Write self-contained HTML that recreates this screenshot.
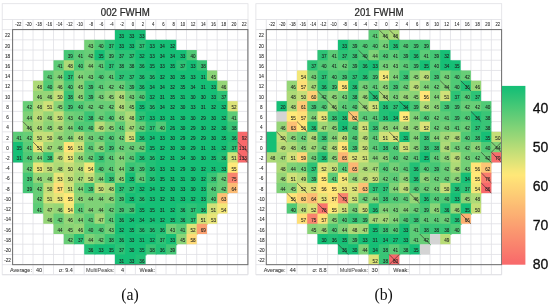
<!DOCTYPE html>
<html><head><meta charset="utf-8"><title>FWHM wafer maps</title><style>
html,body{margin:0;padding:0;background:#fff;width:550px;height:306px;overflow:hidden}
svg{display:block}
text{font-family:"Liberation Sans",sans-serif}
.cn text{font-size:4.6px;fill:#1e1e1e;text-anchor:end;stroke:#1e1e1e;stroke-width:0.07px}
.lb text{font-size:4.7px;fill:#2a2a2a;stroke:#2a2a2a;stroke-width:0.08px}
.cl text{font-size:5.0px;fill:#2a2a2a;stroke:#2a2a2a;stroke-width:0.08px}
.tt{font-size:10.3px;fill:#2a2a2a;stroke:#2a2a2a;stroke-width:0.25px}
.ft text{font-size:5.5px;fill:#404040;text-anchor:end;stroke:#404040;stroke-width:0.08px}
.ft .nm{fill:#333}
.ft .it{font-style:normal}
.ft .mp{fill:#5a5a5a;stroke:#5a5a5a}
.cbl{font-size:14px;fill:#111;stroke:#111;stroke-width:0.3px}
.cap{font-family:"Liberation Serif",serif !important;font-size:15.8px;fill:#111}
</style></head>
<body>
<svg width="550" height="306" viewBox="0 0 550 306">
<defs><clipPath id="clip0"><rect x="12.6" y="0" width="235.29" height="306"/></clipPath><clipPath id="clip1"><rect x="266.3" y="0" width="235.29" height="306"/></clipPath></defs>
<rect x="2.20" y="3.70" width="245.80" height="270.70" fill="#fff" stroke="#e0e0e4" stroke-width="0.8"/>
<line x1="2.20" y1="19.50" x2="248.00" y2="19.50" stroke="#e0e0e4" stroke-width="0.8"/>
<line x1="12.60" y1="19.50" x2="12.60" y2="264.66" stroke="#e0e0e4" stroke-width="0.8"/>
<line x1="22.83" y1="19.50" x2="22.83" y2="264.66" stroke="#e0e0e4" stroke-width="0.8"/>
<line x1="33.06" y1="19.50" x2="33.06" y2="274.40" stroke="#e0e0e4" stroke-width="0.8"/>
<line x1="43.29" y1="19.50" x2="43.29" y2="274.40" stroke="#e0e0e4" stroke-width="0.8"/>
<line x1="53.52" y1="19.50" x2="53.52" y2="274.40" stroke="#e0e0e4" stroke-width="0.8"/>
<line x1="63.75" y1="19.50" x2="63.75" y2="264.66" stroke="#e0e0e4" stroke-width="0.8"/>
<line x1="73.98" y1="19.50" x2="73.98" y2="274.40" stroke="#e0e0e4" stroke-width="0.8"/>
<line x1="84.21" y1="19.50" x2="84.21" y2="274.40" stroke="#e0e0e4" stroke-width="0.8"/>
<line x1="94.44" y1="19.50" x2="94.44" y2="264.66" stroke="#e0e0e4" stroke-width="0.8"/>
<line x1="104.67" y1="19.50" x2="104.67" y2="264.66" stroke="#e0e0e4" stroke-width="0.8"/>
<line x1="114.90" y1="19.50" x2="114.90" y2="274.40" stroke="#e0e0e4" stroke-width="0.8"/>
<line x1="125.13" y1="19.50" x2="125.13" y2="274.40" stroke="#e0e0e4" stroke-width="0.8"/>
<line x1="135.36" y1="19.50" x2="135.36" y2="274.40" stroke="#e0e0e4" stroke-width="0.8"/>
<line x1="145.59" y1="19.50" x2="145.59" y2="264.66" stroke="#e0e0e4" stroke-width="0.8"/>
<line x1="155.82" y1="19.50" x2="155.82" y2="274.40" stroke="#e0e0e4" stroke-width="0.8"/>
<line x1="166.05" y1="19.50" x2="166.05" y2="274.40" stroke="#e0e0e4" stroke-width="0.8"/>
<line x1="176.28" y1="19.50" x2="176.28" y2="274.40" stroke="#e0e0e4" stroke-width="0.8"/>
<line x1="186.51" y1="19.50" x2="186.51" y2="274.40" stroke="#e0e0e4" stroke-width="0.8"/>
<line x1="196.74" y1="19.50" x2="196.74" y2="274.40" stroke="#e0e0e4" stroke-width="0.8"/>
<line x1="206.97" y1="19.50" x2="206.97" y2="274.40" stroke="#e0e0e4" stroke-width="0.8"/>
<line x1="217.20" y1="19.50" x2="217.20" y2="274.40" stroke="#e0e0e4" stroke-width="0.8"/>
<line x1="227.43" y1="19.50" x2="227.43" y2="274.40" stroke="#e0e0e4" stroke-width="0.8"/>
<line x1="237.66" y1="19.50" x2="237.66" y2="274.40" stroke="#e0e0e4" stroke-width="0.8"/>
<line x1="247.89" y1="19.50" x2="247.89" y2="274.40" stroke="#e0e0e4" stroke-width="0.8"/>
<line x1="2.20" y1="29.60" x2="247.89" y2="29.60" stroke="#e0e0e4" stroke-width="0.8"/>
<line x1="2.20" y1="39.82" x2="247.89" y2="39.82" stroke="#e0e0e4" stroke-width="0.8"/>
<line x1="2.20" y1="50.04" x2="247.89" y2="50.04" stroke="#e0e0e4" stroke-width="0.8"/>
<line x1="2.20" y1="60.26" x2="247.89" y2="60.26" stroke="#e0e0e4" stroke-width="0.8"/>
<line x1="2.20" y1="70.48" x2="247.89" y2="70.48" stroke="#e0e0e4" stroke-width="0.8"/>
<line x1="2.20" y1="80.70" x2="247.89" y2="80.70" stroke="#e0e0e4" stroke-width="0.8"/>
<line x1="2.20" y1="90.92" x2="247.89" y2="90.92" stroke="#e0e0e4" stroke-width="0.8"/>
<line x1="2.20" y1="101.14" x2="247.89" y2="101.14" stroke="#e0e0e4" stroke-width="0.8"/>
<line x1="2.20" y1="111.36" x2="247.89" y2="111.36" stroke="#e0e0e4" stroke-width="0.8"/>
<line x1="2.20" y1="121.58" x2="247.89" y2="121.58" stroke="#e0e0e4" stroke-width="0.8"/>
<line x1="2.20" y1="131.80" x2="247.89" y2="131.80" stroke="#e0e0e4" stroke-width="0.8"/>
<line x1="2.20" y1="142.02" x2="247.89" y2="142.02" stroke="#e0e0e4" stroke-width="0.8"/>
<line x1="2.20" y1="152.24" x2="247.89" y2="152.24" stroke="#e0e0e4" stroke-width="0.8"/>
<line x1="2.20" y1="162.46" x2="247.89" y2="162.46" stroke="#e0e0e4" stroke-width="0.8"/>
<line x1="2.20" y1="172.68" x2="247.89" y2="172.68" stroke="#e0e0e4" stroke-width="0.8"/>
<line x1="2.20" y1="182.90" x2="247.89" y2="182.90" stroke="#e0e0e4" stroke-width="0.8"/>
<line x1="2.20" y1="193.12" x2="247.89" y2="193.12" stroke="#e0e0e4" stroke-width="0.8"/>
<line x1="2.20" y1="203.34" x2="247.89" y2="203.34" stroke="#e0e0e4" stroke-width="0.8"/>
<line x1="2.20" y1="213.56" x2="247.89" y2="213.56" stroke="#e0e0e4" stroke-width="0.8"/>
<line x1="2.20" y1="223.78" x2="247.89" y2="223.78" stroke="#e0e0e4" stroke-width="0.8"/>
<line x1="2.20" y1="234.00" x2="247.89" y2="234.00" stroke="#e0e0e4" stroke-width="0.8"/>
<line x1="2.20" y1="244.22" x2="247.89" y2="244.22" stroke="#e0e0e4" stroke-width="0.8"/>
<line x1="2.20" y1="254.44" x2="247.89" y2="254.44" stroke="#e0e0e4" stroke-width="0.8"/>
<line x1="2.20" y1="264.66" x2="247.89" y2="264.66" stroke="#e0e0e4" stroke-width="0.8"/>
<line x1="2.20" y1="274.88" x2="247.89" y2="274.88" stroke="#e0e0e4" stroke-width="0.8"/>
<rect x="114.90" y="29.60" width="11.23" height="11.22" fill="#16bf76"/>
<rect x="125.13" y="29.60" width="11.23" height="11.22" fill="#16bf76"/>
<rect x="135.36" y="29.60" width="10.23" height="11.22" fill="#16bf76"/>
<rect x="84.21" y="39.82" width="11.23" height="11.22" fill="#73d077"/>
<rect x="94.44" y="39.82" width="11.23" height="11.22" fill="#50ca76"/>
<rect x="104.67" y="39.82" width="11.23" height="11.22" fill="#2dc376"/>
<rect x="114.90" y="39.82" width="11.23" height="11.22" fill="#16bf76"/>
<rect x="125.13" y="39.82" width="11.23" height="11.22" fill="#16bf76"/>
<rect x="135.36" y="39.82" width="11.23" height="11.22" fill="#2dc376"/>
<rect x="145.59" y="39.82" width="11.23" height="11.22" fill="#16bf76"/>
<rect x="155.82" y="39.82" width="11.23" height="11.22" fill="#16bf76"/>
<rect x="166.05" y="39.82" width="10.23" height="11.22" fill="#16bf76"/>
<rect x="63.75" y="50.04" width="11.23" height="11.22" fill="#45c776"/>
<rect x="73.98" y="50.04" width="11.23" height="11.22" fill="#5ccc77"/>
<rect x="84.21" y="50.04" width="11.23" height="11.22" fill="#68ce77"/>
<rect x="94.44" y="50.04" width="11.23" height="11.22" fill="#16bf76"/>
<rect x="104.67" y="50.04" width="11.23" height="11.22" fill="#45c776"/>
<rect x="114.90" y="50.04" width="11.23" height="11.22" fill="#2dc376"/>
<rect x="125.13" y="50.04" width="11.23" height="11.22" fill="#2dc376"/>
<rect x="135.36" y="50.04" width="11.23" height="11.22" fill="#16bf76"/>
<rect x="145.59" y="50.04" width="11.23" height="11.22" fill="#16bf76"/>
<rect x="155.82" y="50.04" width="11.23" height="11.22" fill="#16bf76"/>
<rect x="166.05" y="50.04" width="11.23" height="11.22" fill="#16bf76"/>
<rect x="176.28" y="50.04" width="11.23" height="11.22" fill="#16bf76"/>
<rect x="186.51" y="50.04" width="10.23" height="11.22" fill="#50ca76"/>
<rect x="53.52" y="60.26" width="11.23" height="11.22" fill="#5ccc77"/>
<rect x="63.75" y="60.26" width="11.23" height="11.22" fill="#adda77"/>
<rect x="73.98" y="60.26" width="11.23" height="11.22" fill="#50ca76"/>
<rect x="84.21" y="60.26" width="11.23" height="11.22" fill="#7fd277"/>
<rect x="94.44" y="60.26" width="11.23" height="11.22" fill="#5ccc77"/>
<rect x="104.67" y="60.26" width="11.23" height="11.22" fill="#2dc376"/>
<rect x="114.90" y="60.26" width="11.23" height="11.22" fill="#39c576"/>
<rect x="125.13" y="60.26" width="11.23" height="11.22" fill="#39c576"/>
<rect x="135.36" y="60.26" width="11.23" height="11.22" fill="#22c176"/>
<rect x="145.59" y="60.26" width="11.23" height="11.22" fill="#16bf76"/>
<rect x="155.82" y="60.26" width="11.23" height="11.22" fill="#16bf76"/>
<rect x="166.05" y="60.26" width="11.23" height="11.22" fill="#16bf76"/>
<rect x="176.28" y="60.26" width="11.23" height="11.22" fill="#2dc376"/>
<rect x="186.51" y="60.26" width="11.23" height="11.22" fill="#16bf76"/>
<rect x="196.74" y="60.26" width="10.23" height="11.22" fill="#39c576"/>
<rect x="43.29" y="70.48" width="11.23" height="11.22" fill="#5ccc77"/>
<rect x="53.52" y="70.48" width="11.23" height="11.22" fill="#7fd277"/>
<rect x="63.75" y="70.48" width="11.23" height="11.22" fill="#2dc376"/>
<rect x="73.98" y="70.48" width="11.23" height="11.22" fill="#7fd277"/>
<rect x="84.21" y="70.48" width="11.23" height="11.22" fill="#73d077"/>
<rect x="94.44" y="70.48" width="11.23" height="11.22" fill="#50ca76"/>
<rect x="104.67" y="70.48" width="11.23" height="11.22" fill="#5ccc77"/>
<rect x="114.90" y="70.48" width="11.23" height="11.22" fill="#2dc376"/>
<rect x="125.13" y="70.48" width="11.23" height="11.22" fill="#2dc376"/>
<rect x="135.36" y="70.48" width="11.23" height="11.22" fill="#22c176"/>
<rect x="145.59" y="70.48" width="11.23" height="11.22" fill="#22c176"/>
<rect x="155.82" y="70.48" width="11.23" height="11.22" fill="#16bf76"/>
<rect x="166.05" y="70.48" width="11.23" height="11.22" fill="#16bf76"/>
<rect x="176.28" y="70.48" width="11.23" height="11.22" fill="#16bf76"/>
<rect x="186.51" y="70.48" width="11.23" height="11.22" fill="#16bf76"/>
<rect x="196.74" y="70.48" width="11.23" height="11.22" fill="#16bf76"/>
<rect x="206.97" y="70.48" width="10.23" height="11.22" fill="#8ad477"/>
<rect x="33.06" y="80.70" width="11.23" height="11.22" fill="#adda77"/>
<rect x="43.29" y="80.70" width="11.23" height="11.22" fill="#50ca76"/>
<rect x="53.52" y="80.70" width="11.23" height="11.22" fill="#96d677"/>
<rect x="63.75" y="80.70" width="11.23" height="11.22" fill="#50ca76"/>
<rect x="73.98" y="80.70" width="11.23" height="11.22" fill="#8ad477"/>
<rect x="84.21" y="80.70" width="11.23" height="11.22" fill="#45c776"/>
<rect x="94.44" y="80.70" width="11.23" height="11.22" fill="#5ccc77"/>
<rect x="104.67" y="80.70" width="11.23" height="11.22" fill="#68ce77"/>
<rect x="114.90" y="80.70" width="11.23" height="11.22" fill="#68ce77"/>
<rect x="125.13" y="80.70" width="11.23" height="11.22" fill="#45c776"/>
<rect x="135.36" y="80.70" width="11.23" height="11.22" fill="#22c176"/>
<rect x="145.59" y="80.70" width="11.23" height="11.22" fill="#16bf76"/>
<rect x="155.82" y="80.70" width="11.23" height="11.22" fill="#16bf76"/>
<rect x="166.05" y="80.70" width="11.23" height="11.22" fill="#16bf76"/>
<rect x="176.28" y="80.70" width="11.23" height="11.22" fill="#16bf76"/>
<rect x="186.51" y="80.70" width="11.23" height="11.22" fill="#16bf76"/>
<rect x="196.74" y="80.70" width="11.23" height="11.22" fill="#16bf76"/>
<rect x="206.97" y="80.70" width="11.23" height="11.22" fill="#16bf76"/>
<rect x="217.20" y="80.70" width="10.23" height="11.22" fill="#96d677"/>
<rect x="33.06" y="90.92" width="11.23" height="11.22" fill="#96d677"/>
<rect x="43.29" y="90.92" width="11.23" height="11.22" fill="#96d677"/>
<rect x="53.52" y="90.92" width="11.23" height="11.22" fill="#c5de78"/>
<rect x="63.75" y="90.92" width="11.23" height="11.22" fill="#39c576"/>
<rect x="73.98" y="90.92" width="11.23" height="11.22" fill="#8ad477"/>
<rect x="84.21" y="90.92" width="11.23" height="11.22" fill="#45c776"/>
<rect x="94.44" y="90.92" width="11.23" height="11.22" fill="#73d077"/>
<rect x="104.67" y="90.92" width="11.23" height="11.22" fill="#8ad477"/>
<rect x="114.90" y="90.92" width="11.23" height="11.22" fill="#adda77"/>
<rect x="125.13" y="90.92" width="11.23" height="11.22" fill="#73d077"/>
<rect x="135.36" y="90.92" width="11.23" height="11.22" fill="#50ca76"/>
<rect x="145.59" y="90.92" width="11.23" height="11.22" fill="#16bf76"/>
<rect x="155.82" y="90.92" width="11.23" height="11.22" fill="#16bf76"/>
<rect x="166.05" y="90.92" width="11.23" height="11.22" fill="#16bf76"/>
<rect x="176.28" y="90.92" width="11.23" height="11.22" fill="#16bf76"/>
<rect x="186.51" y="90.92" width="11.23" height="11.22" fill="#16bf76"/>
<rect x="196.74" y="90.92" width="11.23" height="11.22" fill="#16bf76"/>
<rect x="206.97" y="90.92" width="11.23" height="11.22" fill="#16bf76"/>
<rect x="217.20" y="90.92" width="10.23" height="11.22" fill="#2dc376"/>
<rect x="22.83" y="101.14" width="11.23" height="11.22" fill="#68ce77"/>
<rect x="33.06" y="101.14" width="11.23" height="11.22" fill="#adda77"/>
<rect x="43.29" y="101.14" width="11.23" height="11.22" fill="#d0e178"/>
<rect x="53.52" y="101.14" width="11.23" height="11.22" fill="#8ad477"/>
<rect x="63.75" y="101.14" width="11.23" height="11.22" fill="#45c776"/>
<rect x="73.98" y="101.14" width="11.23" height="11.22" fill="#50ca76"/>
<rect x="84.21" y="101.14" width="11.23" height="11.22" fill="#68ce77"/>
<rect x="94.44" y="101.14" width="11.23" height="11.22" fill="#68ce77"/>
<rect x="104.67" y="101.14" width="11.23" height="11.22" fill="#68ce77"/>
<rect x="114.90" y="101.14" width="11.23" height="11.22" fill="#adda77"/>
<rect x="125.13" y="101.14" width="11.23" height="11.22" fill="#8ad477"/>
<rect x="135.36" y="101.14" width="11.23" height="11.22" fill="#16bf76"/>
<rect x="145.59" y="101.14" width="11.23" height="11.22" fill="#22c176"/>
<rect x="155.82" y="101.14" width="11.23" height="11.22" fill="#16bf76"/>
<rect x="166.05" y="101.14" width="11.23" height="11.22" fill="#16bf76"/>
<rect x="176.28" y="101.14" width="11.23" height="11.22" fill="#16bf76"/>
<rect x="186.51" y="101.14" width="11.23" height="11.22" fill="#16bf76"/>
<rect x="196.74" y="101.14" width="11.23" height="11.22" fill="#16bf76"/>
<rect x="206.97" y="101.14" width="11.23" height="11.22" fill="#16bf76"/>
<rect x="217.20" y="101.14" width="11.23" height="11.22" fill="#16bf76"/>
<rect x="227.43" y="101.14" width="10.23" height="11.22" fill="#dce378"/>
<rect x="22.83" y="111.36" width="11.23" height="11.22" fill="#7fd277"/>
<rect x="33.06" y="111.36" width="11.23" height="11.22" fill="#b9dc77"/>
<rect x="43.29" y="111.36" width="11.23" height="11.22" fill="#96d677"/>
<rect x="53.52" y="111.36" width="11.23" height="11.22" fill="#c5de78"/>
<rect x="63.75" y="111.36" width="11.23" height="11.22" fill="#73d077"/>
<rect x="73.98" y="111.36" width="11.23" height="11.22" fill="#68ce77"/>
<rect x="84.21" y="111.36" width="11.23" height="11.22" fill="#39c576"/>
<rect x="94.44" y="111.36" width="11.23" height="11.22" fill="#68ce77"/>
<rect x="104.67" y="111.36" width="11.23" height="11.22" fill="#50ca76"/>
<rect x="114.90" y="111.36" width="11.23" height="11.22" fill="#8ad477"/>
<rect x="125.13" y="111.36" width="11.23" height="11.22" fill="#adda77"/>
<rect x="135.36" y="111.36" width="11.23" height="11.22" fill="#2dc376"/>
<rect x="145.59" y="111.36" width="11.23" height="11.22" fill="#16bf76"/>
<rect x="155.82" y="111.36" width="11.23" height="11.22" fill="#16bf76"/>
<rect x="166.05" y="111.36" width="11.23" height="11.22" fill="#16bf76"/>
<rect x="176.28" y="111.36" width="11.23" height="11.22" fill="#16bf76"/>
<rect x="186.51" y="111.36" width="11.23" height="11.22" fill="#16bf76"/>
<rect x="196.74" y="111.36" width="11.23" height="11.22" fill="#16bf76"/>
<rect x="206.97" y="111.36" width="11.23" height="11.22" fill="#16bf76"/>
<rect x="217.20" y="111.36" width="11.23" height="11.22" fill="#16bf76"/>
<rect x="227.43" y="111.36" width="10.23" height="11.22" fill="#5ccc77"/>
<rect x="22.83" y="121.58" width="11.23" height="11.22" fill="#96d677"/>
<rect x="33.06" y="121.58" width="11.23" height="11.22" fill="#adda77"/>
<rect x="43.29" y="121.58" width="11.23" height="11.22" fill="#8ad477"/>
<rect x="53.52" y="121.58" width="11.23" height="11.22" fill="#adda77"/>
<rect x="63.75" y="121.58" width="11.23" height="11.22" fill="#7fd277"/>
<rect x="73.98" y="121.58" width="11.23" height="11.22" fill="#50ca76"/>
<rect x="84.21" y="121.58" width="11.23" height="11.22" fill="#50ca76"/>
<rect x="94.44" y="121.58" width="11.23" height="11.22" fill="#b9dc77"/>
<rect x="104.67" y="121.58" width="11.23" height="11.22" fill="#8ad477"/>
<rect x="114.90" y="121.58" width="11.23" height="11.22" fill="#5ccc77"/>
<rect x="125.13" y="121.58" width="11.23" height="11.22" fill="#a2d877"/>
<rect x="135.36" y="121.58" width="11.23" height="11.22" fill="#68ce77"/>
<rect x="145.59" y="121.58" width="11.23" height="11.22" fill="#2dc376"/>
<rect x="155.82" y="121.58" width="11.23" height="11.22" fill="#50ca76"/>
<rect x="166.05" y="121.58" width="11.23" height="11.22" fill="#16bf76"/>
<rect x="176.28" y="121.58" width="11.23" height="11.22" fill="#16bf76"/>
<rect x="186.51" y="121.58" width="11.23" height="11.22" fill="#16bf76"/>
<rect x="196.74" y="121.58" width="11.23" height="11.22" fill="#16bf76"/>
<rect x="206.97" y="121.58" width="11.23" height="11.22" fill="#16bf76"/>
<rect x="217.20" y="121.58" width="11.23" height="11.22" fill="#16bf76"/>
<rect x="227.43" y="121.58" width="10.23" height="11.22" fill="#39c576"/>
<rect x="12.60" y="131.80" width="11.23" height="11.22" fill="#5ccc77"/>
<rect x="22.83" y="131.80" width="11.23" height="11.22" fill="#68ce77"/>
<rect x="33.06" y="131.80" width="11.23" height="11.22" fill="#c5de78"/>
<rect x="43.29" y="131.80" width="11.23" height="11.22" fill="#c5de78"/>
<rect x="53.52" y="131.80" width="11.23" height="11.22" fill="#96d677"/>
<rect x="63.75" y="131.80" width="11.23" height="11.22" fill="#7fd277"/>
<rect x="73.98" y="131.80" width="11.23" height="11.22" fill="#adda77"/>
<rect x="84.21" y="131.80" width="11.23" height="11.22" fill="#73d077"/>
<rect x="94.44" y="131.80" width="11.23" height="11.22" fill="#68ce77"/>
<rect x="104.67" y="131.80" width="11.23" height="11.22" fill="#50ca76"/>
<rect x="114.90" y="131.80" width="11.23" height="11.22" fill="#68ce77"/>
<rect x="125.13" y="131.80" width="11.23" height="11.22" fill="#d0e178"/>
<rect x="135.36" y="131.80" width="11.23" height="11.22" fill="#22c176"/>
<rect x="145.59" y="131.80" width="11.23" height="11.22" fill="#16bf76"/>
<rect x="155.82" y="131.80" width="11.23" height="11.22" fill="#16bf76"/>
<rect x="166.05" y="131.80" width="11.23" height="11.22" fill="#16bf76"/>
<rect x="176.28" y="131.80" width="11.23" height="11.22" fill="#16bf76"/>
<rect x="186.51" y="131.80" width="11.23" height="11.22" fill="#16bf76"/>
<rect x="196.74" y="131.80" width="11.23" height="11.22" fill="#16bf76"/>
<rect x="206.97" y="131.80" width="11.23" height="11.22" fill="#16bf76"/>
<rect x="217.20" y="131.80" width="11.23" height="11.22" fill="#16bf76"/>
<rect x="227.43" y="131.80" width="11.23" height="11.22" fill="#22c176"/>
<rect x="237.66" y="131.80" width="10.23" height="11.22" fill="#f8696b"/>
<rect x="12.60" y="142.02" width="11.23" height="11.22" fill="#16bf76"/>
<rect x="22.83" y="142.02" width="11.23" height="11.22" fill="#5ccc77"/>
<rect x="33.06" y="142.02" width="11.23" height="11.22" fill="#e8e578"/>
<rect x="43.29" y="142.02" width="11.23" height="11.22" fill="#a2d877"/>
<rect x="53.52" y="142.02" width="11.23" height="11.22" fill="#96d677"/>
<rect x="63.75" y="142.02" width="11.23" height="11.22" fill="#ffe477"/>
<rect x="73.98" y="142.02" width="11.23" height="11.22" fill="#d0e178"/>
<rect x="84.21" y="142.02" width="11.23" height="11.22" fill="#5ccc77"/>
<rect x="94.44" y="142.02" width="11.23" height="11.22" fill="#8ad477"/>
<rect x="104.67" y="142.02" width="11.23" height="11.22" fill="#45c776"/>
<rect x="114.90" y="142.02" width="11.23" height="11.22" fill="#68ce77"/>
<rect x="125.13" y="142.02" width="11.23" height="11.22" fill="#68ce77"/>
<rect x="135.36" y="142.02" width="11.23" height="11.22" fill="#68ce77"/>
<rect x="145.59" y="142.02" width="11.23" height="11.22" fill="#16bf76"/>
<rect x="155.82" y="142.02" width="11.23" height="11.22" fill="#16bf76"/>
<rect x="166.05" y="142.02" width="11.23" height="11.22" fill="#16bf76"/>
<rect x="176.28" y="142.02" width="11.23" height="11.22" fill="#16bf76"/>
<rect x="186.51" y="142.02" width="11.23" height="11.22" fill="#16bf76"/>
<rect x="196.74" y="142.02" width="11.23" height="11.22" fill="#16bf76"/>
<rect x="206.97" y="142.02" width="11.23" height="11.22" fill="#16bf76"/>
<rect x="217.20" y="142.02" width="11.23" height="11.22" fill="#16bf76"/>
<rect x="227.43" y="142.02" width="11.23" height="11.22" fill="#2dc376"/>
<rect x="237.66" y="142.02" width="10.23" height="11.22" fill="#f8696b"/>
<rect x="12.60" y="152.24" width="11.23" height="10.22" fill="#16bf76"/>
<rect x="22.83" y="152.24" width="11.23" height="11.22" fill="#50ca76"/>
<rect x="33.06" y="152.24" width="11.23" height="11.22" fill="#7fd277"/>
<rect x="43.29" y="152.24" width="11.23" height="11.22" fill="#39c576"/>
<rect x="53.52" y="152.24" width="11.23" height="11.22" fill="#b9dc77"/>
<rect x="63.75" y="152.24" width="11.23" height="11.22" fill="#e8e578"/>
<rect x="73.98" y="152.24" width="11.23" height="11.22" fill="#96d677"/>
<rect x="84.21" y="152.24" width="11.23" height="11.22" fill="#68ce77"/>
<rect x="94.44" y="152.24" width="11.23" height="11.22" fill="#39c576"/>
<rect x="104.67" y="152.24" width="11.23" height="11.22" fill="#5ccc77"/>
<rect x="114.90" y="152.24" width="11.23" height="11.22" fill="#7fd277"/>
<rect x="125.13" y="152.24" width="11.23" height="11.22" fill="#5ccc77"/>
<rect x="135.36" y="152.24" width="11.23" height="11.22" fill="#22c176"/>
<rect x="145.59" y="152.24" width="11.23" height="11.22" fill="#22c176"/>
<rect x="155.82" y="152.24" width="11.23" height="11.22" fill="#16bf76"/>
<rect x="166.05" y="152.24" width="11.23" height="11.22" fill="#16bf76"/>
<rect x="176.28" y="152.24" width="11.23" height="11.22" fill="#16bf76"/>
<rect x="186.51" y="152.24" width="11.23" height="11.22" fill="#16bf76"/>
<rect x="196.74" y="152.24" width="11.23" height="11.22" fill="#16bf76"/>
<rect x="206.97" y="152.24" width="11.23" height="11.22" fill="#16bf76"/>
<rect x="217.20" y="152.24" width="11.23" height="11.22" fill="#22c176"/>
<rect x="227.43" y="152.24" width="11.23" height="11.22" fill="#d0e178"/>
<rect x="237.66" y="152.24" width="10.23" height="10.22" fill="#f8696b"/>
<rect x="22.83" y="162.46" width="11.23" height="11.22" fill="#68ce77"/>
<rect x="33.06" y="162.46" width="11.23" height="11.22" fill="#e8e578"/>
<rect x="43.29" y="162.46" width="11.23" height="11.22" fill="#c5de78"/>
<rect x="53.52" y="162.46" width="11.23" height="11.22" fill="#adda77"/>
<rect x="63.75" y="162.46" width="11.23" height="11.22" fill="#c5de78"/>
<rect x="73.98" y="162.46" width="11.23" height="11.22" fill="#adda77"/>
<rect x="84.21" y="162.46" width="11.23" height="11.22" fill="#f3e778"/>
<rect x="94.44" y="162.46" width="11.23" height="11.22" fill="#50ca76"/>
<rect x="104.67" y="162.46" width="11.23" height="11.22" fill="#5ccc77"/>
<rect x="114.90" y="162.46" width="11.23" height="11.22" fill="#7fd277"/>
<rect x="125.13" y="162.46" width="11.23" height="11.22" fill="#39c576"/>
<rect x="135.36" y="162.46" width="11.23" height="11.22" fill="#45c776"/>
<rect x="145.59" y="162.46" width="11.23" height="11.22" fill="#22c176"/>
<rect x="155.82" y="162.46" width="11.23" height="11.22" fill="#16bf76"/>
<rect x="166.05" y="162.46" width="11.23" height="11.22" fill="#16bf76"/>
<rect x="176.28" y="162.46" width="11.23" height="11.22" fill="#16bf76"/>
<rect x="186.51" y="162.46" width="11.23" height="11.22" fill="#16bf76"/>
<rect x="196.74" y="162.46" width="11.23" height="11.22" fill="#16bf76"/>
<rect x="206.97" y="162.46" width="11.23" height="11.22" fill="#16bf76"/>
<rect x="217.20" y="162.46" width="11.23" height="11.22" fill="#16bf76"/>
<rect x="227.43" y="162.46" width="10.23" height="11.22" fill="#ffe978"/>
<rect x="22.83" y="172.68" width="11.23" height="11.22" fill="#45c776"/>
<rect x="33.06" y="172.68" width="11.23" height="11.22" fill="#96d677"/>
<rect x="43.29" y="172.68" width="11.23" height="11.22" fill="#96d677"/>
<rect x="53.52" y="172.68" width="11.23" height="11.22" fill="#e8e578"/>
<rect x="63.75" y="172.68" width="11.23" height="11.22" fill="#c5de78"/>
<rect x="73.98" y="172.68" width="11.23" height="11.22" fill="#a2d877"/>
<rect x="84.21" y="172.68" width="11.23" height="11.22" fill="#c5de78"/>
<rect x="94.44" y="172.68" width="11.23" height="11.22" fill="#7fd277"/>
<rect x="104.67" y="172.68" width="11.23" height="11.22" fill="#39c576"/>
<rect x="114.90" y="172.68" width="11.23" height="11.22" fill="#8ad477"/>
<rect x="125.13" y="172.68" width="11.23" height="11.22" fill="#16bf76"/>
<rect x="135.36" y="172.68" width="11.23" height="11.22" fill="#5ccc77"/>
<rect x="145.59" y="172.68" width="11.23" height="11.22" fill="#22c176"/>
<rect x="155.82" y="172.68" width="11.23" height="11.22" fill="#16bf76"/>
<rect x="166.05" y="172.68" width="11.23" height="11.22" fill="#16bf76"/>
<rect x="176.28" y="172.68" width="11.23" height="11.22" fill="#16bf76"/>
<rect x="186.51" y="172.68" width="11.23" height="11.22" fill="#16bf76"/>
<rect x="196.74" y="172.68" width="11.23" height="11.22" fill="#16bf76"/>
<rect x="206.97" y="172.68" width="11.23" height="11.22" fill="#39c576"/>
<rect x="217.20" y="172.68" width="11.23" height="11.22" fill="#68ce77"/>
<rect x="227.43" y="172.68" width="10.23" height="11.22" fill="#f9836e"/>
<rect x="22.83" y="182.90" width="11.23" height="10.22" fill="#45c776"/>
<rect x="33.06" y="182.90" width="11.23" height="11.22" fill="#68ce77"/>
<rect x="43.29" y="182.90" width="11.23" height="11.22" fill="#c5de78"/>
<rect x="53.52" y="182.90" width="11.23" height="11.22" fill="#fedf77"/>
<rect x="63.75" y="182.90" width="11.23" height="11.22" fill="#d0e178"/>
<rect x="73.98" y="182.90" width="11.23" height="11.22" fill="#7fd277"/>
<rect x="84.21" y="182.90" width="11.23" height="11.22" fill="#45c776"/>
<rect x="94.44" y="182.90" width="11.23" height="11.22" fill="#c5de78"/>
<rect x="104.67" y="182.90" width="11.23" height="11.22" fill="#adda77"/>
<rect x="114.90" y="182.90" width="11.23" height="11.22" fill="#2dc376"/>
<rect x="125.13" y="182.90" width="11.23" height="11.22" fill="#2dc376"/>
<rect x="135.36" y="182.90" width="11.23" height="11.22" fill="#16bf76"/>
<rect x="145.59" y="182.90" width="11.23" height="11.22" fill="#16bf76"/>
<rect x="155.82" y="182.90" width="11.23" height="11.22" fill="#16bf76"/>
<rect x="166.05" y="182.90" width="11.23" height="11.22" fill="#16bf76"/>
<rect x="176.28" y="182.90" width="11.23" height="11.22" fill="#16bf76"/>
<rect x="186.51" y="182.90" width="11.23" height="11.22" fill="#16bf76"/>
<rect x="196.74" y="182.90" width="11.23" height="11.22" fill="#16bf76"/>
<rect x="206.97" y="182.90" width="11.23" height="11.22" fill="#50ca76"/>
<rect x="217.20" y="182.90" width="11.23" height="11.22" fill="#68ce77"/>
<rect x="227.43" y="182.90" width="10.23" height="10.22" fill="#fcbb73"/>
<rect x="33.06" y="193.12" width="11.23" height="11.22" fill="#68ce77"/>
<rect x="43.29" y="193.12" width="11.23" height="11.22" fill="#d0e178"/>
<rect x="53.52" y="193.12" width="11.23" height="11.22" fill="#e8e578"/>
<rect x="63.75" y="193.12" width="11.23" height="11.22" fill="#ffe978"/>
<rect x="73.98" y="193.12" width="11.23" height="11.22" fill="#8ad477"/>
<rect x="84.21" y="193.12" width="11.23" height="11.22" fill="#7fd277"/>
<rect x="94.44" y="193.12" width="11.23" height="11.22" fill="#7fd277"/>
<rect x="104.67" y="193.12" width="11.23" height="11.22" fill="#8ad477"/>
<rect x="114.90" y="193.12" width="11.23" height="11.22" fill="#45c776"/>
<rect x="125.13" y="193.12" width="11.23" height="11.22" fill="#16bf76"/>
<rect x="135.36" y="193.12" width="11.23" height="11.22" fill="#22c176"/>
<rect x="145.59" y="193.12" width="11.23" height="11.22" fill="#16bf76"/>
<rect x="155.82" y="193.12" width="11.23" height="11.22" fill="#16bf76"/>
<rect x="166.05" y="193.12" width="11.23" height="11.22" fill="#16bf76"/>
<rect x="176.28" y="193.12" width="11.23" height="11.22" fill="#16bf76"/>
<rect x="186.51" y="193.12" width="11.23" height="11.22" fill="#16bf76"/>
<rect x="196.74" y="193.12" width="11.23" height="11.22" fill="#16bf76"/>
<rect x="206.97" y="193.12" width="11.23" height="11.22" fill="#50ca76"/>
<rect x="217.20" y="193.12" width="10.23" height="11.22" fill="#fdc074"/>
<rect x="33.06" y="203.34" width="11.23" height="10.22" fill="#5ccc77"/>
<rect x="43.29" y="203.34" width="11.23" height="11.22" fill="#a2d877"/>
<rect x="53.52" y="203.34" width="11.23" height="11.22" fill="#96d677"/>
<rect x="63.75" y="203.34" width="11.23" height="11.22" fill="#f3e778"/>
<rect x="73.98" y="203.34" width="11.23" height="11.22" fill="#5ccc77"/>
<rect x="84.21" y="203.34" width="11.23" height="11.22" fill="#7fd277"/>
<rect x="94.44" y="203.34" width="11.23" height="11.22" fill="#7fd277"/>
<rect x="104.67" y="203.34" width="11.23" height="11.22" fill="#68ce77"/>
<rect x="114.90" y="203.34" width="11.23" height="11.22" fill="#45c776"/>
<rect x="125.13" y="203.34" width="11.23" height="11.22" fill="#45c776"/>
<rect x="135.36" y="203.34" width="11.23" height="11.22" fill="#16bf76"/>
<rect x="145.59" y="203.34" width="11.23" height="11.22" fill="#16bf76"/>
<rect x="155.82" y="203.34" width="11.23" height="11.22" fill="#16bf76"/>
<rect x="166.05" y="203.34" width="11.23" height="11.22" fill="#16bf76"/>
<rect x="176.28" y="203.34" width="11.23" height="11.22" fill="#22c176"/>
<rect x="186.51" y="203.34" width="11.23" height="11.22" fill="#2dc376"/>
<rect x="196.74" y="203.34" width="11.23" height="11.22" fill="#22c176"/>
<rect x="206.97" y="203.34" width="11.23" height="11.22" fill="#d0e178"/>
<rect x="217.20" y="203.34" width="10.23" height="10.22" fill="#f3e778"/>
<rect x="43.29" y="213.56" width="11.23" height="10.22" fill="#96d677"/>
<rect x="53.52" y="213.56" width="11.23" height="11.22" fill="#68ce77"/>
<rect x="63.75" y="213.56" width="11.23" height="11.22" fill="#96d677"/>
<rect x="73.98" y="213.56" width="11.23" height="11.22" fill="#7fd277"/>
<rect x="84.21" y="213.56" width="11.23" height="11.22" fill="#5ccc77"/>
<rect x="94.44" y="213.56" width="11.23" height="11.22" fill="#a2d877"/>
<rect x="104.67" y="213.56" width="11.23" height="11.22" fill="#5ccc77"/>
<rect x="114.90" y="213.56" width="11.23" height="11.22" fill="#22c176"/>
<rect x="125.13" y="213.56" width="11.23" height="11.22" fill="#16bf76"/>
<rect x="135.36" y="213.56" width="11.23" height="11.22" fill="#16bf76"/>
<rect x="145.59" y="213.56" width="11.23" height="11.22" fill="#16bf76"/>
<rect x="155.82" y="213.56" width="11.23" height="11.22" fill="#16bf76"/>
<rect x="166.05" y="213.56" width="11.23" height="11.22" fill="#16bf76"/>
<rect x="176.28" y="213.56" width="11.23" height="11.22" fill="#22c176"/>
<rect x="186.51" y="213.56" width="11.23" height="11.22" fill="#2dc376"/>
<rect x="196.74" y="213.56" width="11.23" height="11.22" fill="#d0e178"/>
<rect x="206.97" y="213.56" width="10.23" height="10.22" fill="#e8e578"/>
<rect x="53.52" y="223.78" width="11.23" height="10.22" fill="#7fd277"/>
<rect x="63.75" y="223.78" width="11.23" height="11.22" fill="#8ad477"/>
<rect x="73.98" y="223.78" width="11.23" height="11.22" fill="#96d677"/>
<rect x="84.21" y="223.78" width="11.23" height="11.22" fill="#50ca76"/>
<rect x="94.44" y="223.78" width="11.23" height="11.22" fill="#50ca76"/>
<rect x="104.67" y="223.78" width="11.23" height="11.22" fill="#73d077"/>
<rect x="114.90" y="223.78" width="11.23" height="11.22" fill="#16bf76"/>
<rect x="125.13" y="223.78" width="11.23" height="11.22" fill="#16bf76"/>
<rect x="135.36" y="223.78" width="11.23" height="11.22" fill="#22c176"/>
<rect x="145.59" y="223.78" width="11.23" height="11.22" fill="#22c176"/>
<rect x="155.82" y="223.78" width="11.23" height="11.22" fill="#22c176"/>
<rect x="166.05" y="223.78" width="11.23" height="11.22" fill="#73d077"/>
<rect x="176.28" y="223.78" width="11.23" height="11.22" fill="#5ccc77"/>
<rect x="186.51" y="223.78" width="11.23" height="11.22" fill="#dce378"/>
<rect x="196.74" y="223.78" width="10.23" height="10.22" fill="#fba171"/>
<rect x="63.75" y="234.00" width="11.23" height="10.22" fill="#68ce77"/>
<rect x="73.98" y="234.00" width="11.23" height="10.22" fill="#2dc376"/>
<rect x="84.21" y="234.00" width="11.23" height="11.22" fill="#7fd277"/>
<rect x="94.44" y="234.00" width="11.23" height="11.22" fill="#68ce77"/>
<rect x="104.67" y="234.00" width="11.23" height="11.22" fill="#39c576"/>
<rect x="114.90" y="234.00" width="11.23" height="11.22" fill="#22c176"/>
<rect x="125.13" y="234.00" width="11.23" height="11.22" fill="#16bf76"/>
<rect x="135.36" y="234.00" width="11.23" height="11.22" fill="#16bf76"/>
<rect x="145.59" y="234.00" width="11.23" height="11.22" fill="#16bf76"/>
<rect x="155.82" y="234.00" width="11.23" height="11.22" fill="#2dc376"/>
<rect x="166.05" y="234.00" width="11.23" height="11.22" fill="#16bf76"/>
<rect x="176.28" y="234.00" width="11.23" height="10.22" fill="#8ad477"/>
<rect x="186.51" y="234.00" width="10.23" height="10.22" fill="#feda76"/>
<rect x="84.21" y="244.22" width="11.23" height="10.22" fill="#22c176"/>
<rect x="94.44" y="244.22" width="11.23" height="10.22" fill="#16bf76"/>
<rect x="104.67" y="244.22" width="11.23" height="10.22" fill="#16bf76"/>
<rect x="114.90" y="244.22" width="11.23" height="11.22" fill="#2dc376"/>
<rect x="125.13" y="244.22" width="11.23" height="11.22" fill="#16bf76"/>
<rect x="135.36" y="244.22" width="11.23" height="11.22" fill="#16bf76"/>
<rect x="145.59" y="244.22" width="11.23" height="10.22" fill="#39c576"/>
<rect x="155.82" y="244.22" width="11.23" height="10.22" fill="#22c176"/>
<rect x="166.05" y="244.22" width="10.23" height="10.22" fill="#45c776"/>
<rect x="114.90" y="254.44" width="11.23" height="10.22" fill="#16bf76"/>
<rect x="125.13" y="254.44" width="11.23" height="10.22" fill="#16bf76"/>
<rect x="135.36" y="254.44" width="10.23" height="10.22" fill="#22c176"/>
<line x1="22.83" y1="121.58" x2="33.06" y2="131.80" stroke="#2a2a2a" stroke-width="0.6"/>
<line x1="33.06" y1="142.02" x2="43.29" y2="152.24" stroke="#2a2a2a" stroke-width="0.6"/>
<line x1="237.66" y1="142.02" x2="247.89" y2="152.24" stroke="#2a2a2a" stroke-width="0.6"/>
<line x1="237.66" y1="152.24" x2="247.89" y2="162.46" stroke="#2a2a2a" stroke-width="0.6"/>
<g class="cn" clip-path="url(#clip0)"><text x="124.03" y="37.82">33</text><text x="134.26" y="37.82">33</text><text x="144.49" y="37.82">33</text><text x="93.34" y="48.04">43</text><text x="103.57" y="48.04">40</text><text x="113.80" y="48.04">37</text><text x="124.03" y="48.04">33</text><text x="134.26" y="48.04">33</text><text x="144.49" y="48.04">37</text><text x="154.72" y="48.04">33</text><text x="164.95" y="48.04">34</text><text x="175.18" y="48.04">32</text><text x="72.88" y="58.26">39</text><text x="83.11" y="58.26">41</text><text x="93.34" y="58.26">42</text><text x="103.57" y="58.26">35</text><text x="113.80" y="58.26">39</text><text x="124.03" y="58.26">37</text><text x="134.26" y="58.26">37</text><text x="144.49" y="58.26">32</text><text x="154.72" y="58.26">33</text><text x="164.95" y="58.26">34</text><text x="175.18" y="58.26">34</text><text x="185.41" y="58.26">33</text><text x="195.64" y="58.26">40</text><text x="62.65" y="68.48">41</text><text x="72.88" y="68.48">48</text><text x="83.11" y="68.48">40</text><text x="93.34" y="68.48">44</text><text x="103.57" y="68.48">41</text><text x="113.80" y="68.48">37</text><text x="124.03" y="68.48">38</text><text x="134.26" y="68.48">38</text><text x="144.49" y="68.48">36</text><text x="154.72" y="68.48">35</text><text x="164.95" y="68.48">33</text><text x="175.18" y="68.48">35</text><text x="185.41" y="68.48">37</text><text x="195.64" y="68.48">33</text><text x="205.87" y="68.48">38</text><text x="52.42" y="78.70">41</text><text x="62.65" y="78.70">44</text><text x="72.88" y="78.70">37</text><text x="83.11" y="78.70">44</text><text x="93.34" y="78.70">43</text><text x="103.57" y="78.70">40</text><text x="113.80" y="78.70">41</text><text x="124.03" y="78.70">37</text><text x="134.26" y="78.70">37</text><text x="144.49" y="78.70">36</text><text x="154.72" y="78.70">36</text><text x="164.95" y="78.70">32</text><text x="175.18" y="78.70">30</text><text x="185.41" y="78.70">35</text><text x="195.64" y="78.70">33</text><text x="205.87" y="78.70">31</text><text x="216.10" y="78.70">45</text><text x="42.19" y="88.92">48</text><text x="52.42" y="88.92">40</text><text x="62.65" y="88.92">46</text><text x="72.88" y="88.92">40</text><text x="83.11" y="88.92">45</text><text x="93.34" y="88.92">39</text><text x="103.57" y="88.92">41</text><text x="113.80" y="88.92">42</text><text x="124.03" y="88.92">42</text><text x="134.26" y="88.92">39</text><text x="144.49" y="88.92">36</text><text x="154.72" y="88.92">34</text><text x="164.95" y="88.92">34</text><text x="175.18" y="88.92">32</text><text x="185.41" y="88.92">35</text><text x="195.64" y="88.92">34</text><text x="205.87" y="88.92">31</text><text x="216.10" y="88.92">33</text><text x="226.33" y="88.92">46</text><text x="42.19" y="99.14">46</text><text x="52.42" y="99.14">46</text><text x="62.65" y="99.14">50</text><text x="72.88" y="99.14">38</text><text x="83.11" y="99.14">45</text><text x="93.34" y="99.14">39</text><text x="103.57" y="99.14">43</text><text x="113.80" y="99.14">45</text><text x="124.03" y="99.14">48</text><text x="134.26" y="99.14">43</text><text x="144.49" y="99.14">40</text><text x="154.72" y="99.14">32</text><text x="164.95" y="99.14">31</text><text x="175.18" y="99.14">35</text><text x="185.41" y="99.14">31</text><text x="195.64" y="99.14">30</text><text x="205.87" y="99.14">30</text><text x="216.10" y="99.14">33</text><text x="226.33" y="99.14">37</text><text x="31.96" y="109.36">42</text><text x="42.19" y="109.36">48</text><text x="52.42" y="109.36">51</text><text x="62.65" y="109.36">45</text><text x="72.88" y="109.36">39</text><text x="83.11" y="109.36">40</text><text x="93.34" y="109.36">42</text><text x="103.57" y="109.36">42</text><text x="113.80" y="109.36">42</text><text x="124.03" y="109.36">48</text><text x="134.26" y="109.36">45</text><text x="144.49" y="109.36">35</text><text x="154.72" y="109.36">36</text><text x="164.95" y="109.36">34</text><text x="175.18" y="109.36">32</text><text x="185.41" y="109.36">30</text><text x="195.64" y="109.36">33</text><text x="205.87" y="109.36">31</text><text x="216.10" y="109.36">32</text><text x="226.33" y="109.36">32</text><text x="236.56" y="109.36">52</text><text x="31.96" y="119.58">44</text><text x="42.19" y="119.58">49</text><text x="52.42" y="119.58">46</text><text x="62.65" y="119.58">50</text><text x="72.88" y="119.58">43</text><text x="83.11" y="119.58">42</text><text x="93.34" y="119.58">38</text><text x="103.57" y="119.58">42</text><text x="113.80" y="119.58">40</text><text x="124.03" y="119.58">45</text><text x="134.26" y="119.58">48</text><text x="144.49" y="119.58">37</text><text x="154.72" y="119.58">33</text><text x="164.95" y="119.58">33</text><text x="175.18" y="119.58">31</text><text x="185.41" y="119.58">30</text><text x="195.64" y="119.58">30</text><text x="205.87" y="119.58">29</text><text x="216.10" y="119.58">30</text><text x="226.33" y="119.58">32</text><text x="236.56" y="119.58">41</text><text x="31.96" y="129.80">46</text><text x="42.19" y="129.80">48</text><text x="52.42" y="129.80">45</text><text x="62.65" y="129.80">48</text><text x="72.88" y="129.80">44</text><text x="83.11" y="129.80">40</text><text x="93.34" y="129.80">40</text><text x="103.57" y="129.80">49</text><text x="113.80" y="129.80">45</text><text x="124.03" y="129.80">41</text><text x="134.26" y="129.80">47</text><text x="144.49" y="129.80">42</text><text x="154.72" y="129.80">37</text><text x="164.95" y="129.80">40</text><text x="175.18" y="129.80">26</text><text x="185.41" y="129.80">30</text><text x="195.64" y="129.80">29</text><text x="205.87" y="129.80">30</text><text x="216.10" y="129.80">32</text><text x="226.33" y="129.80">30</text><text x="236.56" y="129.80">38</text><text x="21.73" y="140.02">41</text><text x="31.96" y="140.02">42</text><text x="42.19" y="140.02">50</text><text x="52.42" y="140.02">50</text><text x="62.65" y="140.02">46</text><text x="72.88" y="140.02">44</text><text x="83.11" y="140.02">48</text><text x="93.34" y="140.02">43</text><text x="103.57" y="140.02">42</text><text x="113.80" y="140.02">40</text><text x="124.03" y="140.02">42</text><text x="134.26" y="140.02">51</text><text x="144.49" y="140.02">36</text><text x="154.72" y="140.02">34</text><text x="164.95" y="140.02">33</text><text x="175.18" y="140.02">30</text><text x="185.41" y="140.02">29</text><text x="195.64" y="140.02">29</text><text x="205.87" y="140.02">29</text><text x="216.10" y="140.02">30</text><text x="226.33" y="140.02">35</text><text x="236.56" y="140.02">36</text><text x="246.79" y="140.02">92</text><text x="21.73" y="150.24">35</text><text x="31.96" y="150.24">41</text><text x="42.19" y="150.24">53</text><text x="52.42" y="150.24">47</text><text x="62.65" y="150.24">46</text><text x="72.88" y="150.24">56</text><text x="83.11" y="150.24">51</text><text x="93.34" y="150.24">41</text><text x="103.57" y="150.24">45</text><text x="113.80" y="150.24">39</text><text x="124.03" y="150.24">42</text><text x="134.26" y="150.24">42</text><text x="144.49" y="150.24">42</text><text x="154.72" y="150.24">35</text><text x="164.95" y="150.24">32</text><text x="175.18" y="150.24">30</text><text x="185.41" y="150.24">30</text><text x="195.64" y="150.24">29</text><text x="205.87" y="150.24">31</text><text x="216.10" y="150.24">31</text><text x="226.33" y="150.24">32</text><text x="236.56" y="150.24">37</text><text x="246.79" y="150.24">131</text><text x="21.73" y="160.46">31</text><text x="31.96" y="160.46">40</text><text x="42.19" y="160.46">44</text><text x="52.42" y="160.46">38</text><text x="62.65" y="160.46">49</text><text x="72.88" y="160.46">53</text><text x="83.11" y="160.46">46</text><text x="93.34" y="160.46">42</text><text x="103.57" y="160.46">38</text><text x="113.80" y="160.46">41</text><text x="124.03" y="160.46">44</text><text x="134.26" y="160.46">41</text><text x="144.49" y="160.46">36</text><text x="154.72" y="160.46">36</text><text x="164.95" y="160.46">32</text><text x="175.18" y="160.46">31</text><text x="185.41" y="160.46">34</text><text x="195.64" y="160.46">30</text><text x="205.87" y="160.46">30</text><text x="216.10" y="160.46">35</text><text x="226.33" y="160.46">36</text><text x="236.56" y="160.46">51</text><text x="246.79" y="160.46">133</text><text x="31.96" y="170.68">42</text><text x="42.19" y="170.68">53</text><text x="52.42" y="170.68">50</text><text x="62.65" y="170.68">48</text><text x="72.88" y="170.68">50</text><text x="83.11" y="170.68">48</text><text x="93.34" y="170.68">54</text><text x="103.57" y="170.68">40</text><text x="113.80" y="170.68">41</text><text x="124.03" y="170.68">44</text><text x="134.26" y="170.68">38</text><text x="144.49" y="170.68">39</text><text x="154.72" y="170.68">36</text><text x="164.95" y="170.68">33</text><text x="175.18" y="170.68">31</text><text x="185.41" y="170.68">29</text><text x="195.64" y="170.68">30</text><text x="205.87" y="170.68">32</text><text x="216.10" y="170.68">31</text><text x="226.33" y="170.68">33</text><text x="236.56" y="170.68">55</text><text x="31.96" y="180.90">39</text><text x="42.19" y="180.90">46</text><text x="52.42" y="180.90">46</text><text x="62.65" y="180.90">53</text><text x="72.88" y="180.90">50</text><text x="83.11" y="180.90">47</text><text x="93.34" y="180.90">50</text><text x="103.57" y="180.90">44</text><text x="113.80" y="180.90">38</text><text x="124.03" y="180.90">45</text><text x="134.26" y="180.90">35</text><text x="144.49" y="180.90">41</text><text x="154.72" y="180.90">36</text><text x="164.95" y="180.90">35</text><text x="175.18" y="180.90">31</text><text x="185.41" y="180.90">31</text><text x="195.64" y="180.90">30</text><text x="205.87" y="180.90">32</text><text x="216.10" y="180.90">38</text><text x="226.33" y="180.90">42</text><text x="236.56" y="180.90">75</text><text x="31.96" y="191.12">39</text><text x="42.19" y="191.12">42</text><text x="52.42" y="191.12">50</text><text x="62.65" y="191.12">57</text><text x="72.88" y="191.12">51</text><text x="83.11" y="191.12">44</text><text x="93.34" y="191.12">39</text><text x="103.57" y="191.12">50</text><text x="113.80" y="191.12">48</text><text x="124.03" y="191.12">37</text><text x="134.26" y="191.12">37</text><text x="144.49" y="191.12">32</text><text x="154.72" y="191.12">34</text><text x="164.95" y="191.12">32</text><text x="175.18" y="191.12">30</text><text x="185.41" y="191.12">33</text><text x="195.64" y="191.12">30</text><text x="205.87" y="191.12">33</text><text x="216.10" y="191.12">40</text><text x="226.33" y="191.12">42</text><text x="236.56" y="191.12">64</text><text x="42.19" y="201.34">42</text><text x="52.42" y="201.34">51</text><text x="62.65" y="201.34">53</text><text x="72.88" y="201.34">55</text><text x="83.11" y="201.34">45</text><text x="93.34" y="201.34">44</text><text x="103.57" y="201.34">44</text><text x="113.80" y="201.34">45</text><text x="124.03" y="201.34">39</text><text x="134.26" y="201.34">35</text><text x="144.49" y="201.34">36</text><text x="154.72" y="201.34">33</text><text x="164.95" y="201.34">32</text><text x="175.18" y="201.34">31</text><text x="185.41" y="201.34">33</text><text x="195.64" y="201.34">32</text><text x="205.87" y="201.34">33</text><text x="216.10" y="201.34">40</text><text x="226.33" y="201.34">63</text><text x="42.19" y="211.56">41</text><text x="52.42" y="211.56">47</text><text x="62.65" y="211.56">46</text><text x="72.88" y="211.56">54</text><text x="83.11" y="211.56">41</text><text x="93.34" y="211.56">44</text><text x="103.57" y="211.56">44</text><text x="113.80" y="211.56">42</text><text x="124.03" y="211.56">39</text><text x="134.26" y="211.56">39</text><text x="144.49" y="211.56">35</text><text x="154.72" y="211.56">35</text><text x="164.95" y="211.56">31</text><text x="175.18" y="211.56">32</text><text x="185.41" y="211.56">36</text><text x="195.64" y="211.56">37</text><text x="205.87" y="211.56">36</text><text x="216.10" y="211.56">51</text><text x="226.33" y="211.56">54</text><text x="52.42" y="221.78">46</text><text x="62.65" y="221.78">42</text><text x="72.88" y="221.78">46</text><text x="83.11" y="221.78">44</text><text x="93.34" y="221.78">41</text><text x="103.57" y="221.78">47</text><text x="113.80" y="221.78">41</text><text x="124.03" y="221.78">36</text><text x="134.26" y="221.78">34</text><text x="144.49" y="221.78">34</text><text x="154.72" y="221.78">34</text><text x="164.95" y="221.78">32</text><text x="175.18" y="221.78">35</text><text x="185.41" y="221.78">36</text><text x="195.64" y="221.78">37</text><text x="205.87" y="221.78">51</text><text x="216.10" y="221.78">53</text><text x="62.65" y="232.00">44</text><text x="72.88" y="232.00">45</text><text x="83.11" y="232.00">46</text><text x="93.34" y="232.00">40</text><text x="103.57" y="232.00">40</text><text x="113.80" y="232.00">43</text><text x="124.03" y="232.00">32</text><text x="134.26" y="232.00">35</text><text x="144.49" y="232.00">36</text><text x="154.72" y="232.00">36</text><text x="164.95" y="232.00">36</text><text x="175.18" y="232.00">43</text><text x="185.41" y="232.00">41</text><text x="195.64" y="232.00">52</text><text x="205.87" y="232.00">69</text><text x="72.88" y="242.22">42</text><text x="83.11" y="242.22">37</text><text x="93.34" y="242.22">44</text><text x="103.57" y="242.22">42</text><text x="113.80" y="242.22">38</text><text x="124.03" y="242.22">36</text><text x="134.26" y="242.22">33</text><text x="144.49" y="242.22">31</text><text x="154.72" y="242.22">32</text><text x="164.95" y="242.22">37</text><text x="175.18" y="242.22">33</text><text x="185.41" y="242.22">45</text><text x="195.64" y="242.22">58</text><text x="93.34" y="252.44">36</text><text x="103.57" y="252.44">33</text><text x="113.80" y="252.44">35</text><text x="124.03" y="252.44">37</text><text x="134.26" y="252.44">30</text><text x="144.49" y="252.44">35</text><text x="154.72" y="252.44">38</text><text x="164.95" y="252.44">36</text><text x="175.18" y="252.44">39</text><text x="124.03" y="262.66">31</text><text x="134.26" y="262.66">33</text><text x="144.49" y="262.66">36</text></g>
<rect x="12.60" y="29.60" width="235.29" height="235.06" fill="none" stroke="#6e6e6e" stroke-width="1"/>
<g class="cl" transform="scale(0.85,1)"><text x="25.27" y="26.1" text-anchor="end">-22</text><text x="37.31" y="26.1" text-anchor="end">-20</text><text x="49.34" y="26.1" text-anchor="end">-18</text><text x="61.38" y="26.1" text-anchor="end">-16</text><text x="73.41" y="26.1" text-anchor="end">-14</text><text x="85.45" y="26.1" text-anchor="end">-12</text><text x="97.48" y="26.1" text-anchor="end">-10</text><text x="109.52" y="26.1" text-anchor="end">-8</text><text x="121.55" y="26.1" text-anchor="end">-6</text><text x="133.59" y="26.1" text-anchor="end">-4</text><text x="145.62" y="26.1" text-anchor="end">-2</text><text x="157.66" y="26.1" text-anchor="end">0</text><text x="169.69" y="26.1" text-anchor="end">2</text><text x="181.73" y="26.1" text-anchor="end">4</text><text x="193.76" y="26.1" text-anchor="end">6</text><text x="205.80" y="26.1" text-anchor="end">8</text><text x="217.84" y="26.1" text-anchor="end">10</text><text x="229.87" y="26.1" text-anchor="end">12</text><text x="241.91" y="26.1" text-anchor="end">14</text><text x="253.94" y="26.1" text-anchor="end">16</text><text x="265.98" y="26.1" text-anchor="end">18</text><text x="278.01" y="26.1" text-anchor="end">20</text><text x="290.05" y="26.1" text-anchor="end">22</text></g>
<g class="lb"><text x="7.60" y="37.32" text-anchor="middle">22</text><text x="7.60" y="47.54" text-anchor="middle">20</text><text x="7.60" y="57.76" text-anchor="middle">18</text><text x="7.60" y="67.98" text-anchor="middle">16</text><text x="7.60" y="78.20" text-anchor="middle">14</text><text x="7.60" y="88.42" text-anchor="middle">12</text><text x="7.60" y="98.64" text-anchor="middle">10</text><text x="7.60" y="108.86" text-anchor="middle">8</text><text x="7.60" y="119.08" text-anchor="middle">6</text><text x="7.60" y="129.30" text-anchor="middle">4</text><text x="7.60" y="139.52" text-anchor="middle">2</text><text x="7.60" y="149.74" text-anchor="middle">0</text><text x="7.60" y="159.96" text-anchor="middle">-2</text><text x="7.60" y="170.18" text-anchor="middle">-4</text><text x="7.60" y="180.40" text-anchor="middle">-6</text><text x="7.60" y="190.62" text-anchor="middle">-8</text><text x="7.60" y="200.84" text-anchor="middle">-10</text><text x="7.60" y="211.06" text-anchor="middle">-12</text><text x="7.60" y="221.28" text-anchor="middle">-14</text><text x="7.60" y="231.50" text-anchor="middle">-16</text><text x="7.60" y="241.72" text-anchor="middle">-18</text><text x="7.60" y="251.94" text-anchor="middle">-20</text><text x="7.60" y="262.16" text-anchor="middle">-22</text></g>
<text class="tt" transform="translate(125.30,0) scale(0.94,1)" x="0" y="16.0" text-anchor="middle">002 FWHM</text>
<g class="ft"><text class="it" x="31.96" y="271.8">Average:</text><text class="nm" x="42.19" y="271.8">40</text><text x="72.88" y="271.8">σ: 9.4</text><text class="mp" x="114.40" y="271.8">MultiPeaks:</text><text class="nm" x="124.03" y="271.8">4</text><text x="155.12" y="271.8">Weak:</text></g>
<rect x="255.90" y="3.70" width="245.80" height="270.70" fill="#fff" stroke="#e0e0e4" stroke-width="0.8"/>
<line x1="255.90" y1="19.50" x2="501.70" y2="19.50" stroke="#e0e0e4" stroke-width="0.8"/>
<line x1="266.30" y1="19.50" x2="266.30" y2="264.66" stroke="#e0e0e4" stroke-width="0.8"/>
<line x1="276.53" y1="19.50" x2="276.53" y2="264.66" stroke="#e0e0e4" stroke-width="0.8"/>
<line x1="286.76" y1="19.50" x2="286.76" y2="274.40" stroke="#e0e0e4" stroke-width="0.8"/>
<line x1="296.99" y1="19.50" x2="296.99" y2="274.40" stroke="#e0e0e4" stroke-width="0.8"/>
<line x1="307.22" y1="19.50" x2="307.22" y2="274.40" stroke="#e0e0e4" stroke-width="0.8"/>
<line x1="317.45" y1="19.50" x2="317.45" y2="264.66" stroke="#e0e0e4" stroke-width="0.8"/>
<line x1="327.68" y1="19.50" x2="327.68" y2="274.40" stroke="#e0e0e4" stroke-width="0.8"/>
<line x1="337.91" y1="19.50" x2="337.91" y2="274.40" stroke="#e0e0e4" stroke-width="0.8"/>
<line x1="348.14" y1="19.50" x2="348.14" y2="264.66" stroke="#e0e0e4" stroke-width="0.8"/>
<line x1="358.37" y1="19.50" x2="358.37" y2="264.66" stroke="#e0e0e4" stroke-width="0.8"/>
<line x1="368.60" y1="19.50" x2="368.60" y2="274.40" stroke="#e0e0e4" stroke-width="0.8"/>
<line x1="378.83" y1="19.50" x2="378.83" y2="274.40" stroke="#e0e0e4" stroke-width="0.8"/>
<line x1="389.06" y1="19.50" x2="389.06" y2="274.40" stroke="#e0e0e4" stroke-width="0.8"/>
<line x1="399.29" y1="19.50" x2="399.29" y2="264.66" stroke="#e0e0e4" stroke-width="0.8"/>
<line x1="409.52" y1="19.50" x2="409.52" y2="274.40" stroke="#e0e0e4" stroke-width="0.8"/>
<line x1="419.75" y1="19.50" x2="419.75" y2="274.40" stroke="#e0e0e4" stroke-width="0.8"/>
<line x1="429.98" y1="19.50" x2="429.98" y2="274.40" stroke="#e0e0e4" stroke-width="0.8"/>
<line x1="440.21" y1="19.50" x2="440.21" y2="274.40" stroke="#e0e0e4" stroke-width="0.8"/>
<line x1="450.44" y1="19.50" x2="450.44" y2="274.40" stroke="#e0e0e4" stroke-width="0.8"/>
<line x1="460.67" y1="19.50" x2="460.67" y2="274.40" stroke="#e0e0e4" stroke-width="0.8"/>
<line x1="470.90" y1="19.50" x2="470.90" y2="274.40" stroke="#e0e0e4" stroke-width="0.8"/>
<line x1="481.13" y1="19.50" x2="481.13" y2="274.40" stroke="#e0e0e4" stroke-width="0.8"/>
<line x1="491.36" y1="19.50" x2="491.36" y2="274.40" stroke="#e0e0e4" stroke-width="0.8"/>
<line x1="501.59" y1="19.50" x2="501.59" y2="274.40" stroke="#e0e0e4" stroke-width="0.8"/>
<line x1="255.90" y1="29.60" x2="501.59" y2="29.60" stroke="#e0e0e4" stroke-width="0.8"/>
<line x1="255.90" y1="39.82" x2="501.59" y2="39.82" stroke="#e0e0e4" stroke-width="0.8"/>
<line x1="255.90" y1="50.04" x2="501.59" y2="50.04" stroke="#e0e0e4" stroke-width="0.8"/>
<line x1="255.90" y1="60.26" x2="501.59" y2="60.26" stroke="#e0e0e4" stroke-width="0.8"/>
<line x1="255.90" y1="70.48" x2="501.59" y2="70.48" stroke="#e0e0e4" stroke-width="0.8"/>
<line x1="255.90" y1="80.70" x2="501.59" y2="80.70" stroke="#e0e0e4" stroke-width="0.8"/>
<line x1="255.90" y1="90.92" x2="501.59" y2="90.92" stroke="#e0e0e4" stroke-width="0.8"/>
<line x1="255.90" y1="101.14" x2="501.59" y2="101.14" stroke="#e0e0e4" stroke-width="0.8"/>
<line x1="255.90" y1="111.36" x2="501.59" y2="111.36" stroke="#e0e0e4" stroke-width="0.8"/>
<line x1="255.90" y1="121.58" x2="501.59" y2="121.58" stroke="#e0e0e4" stroke-width="0.8"/>
<line x1="255.90" y1="131.80" x2="501.59" y2="131.80" stroke="#e0e0e4" stroke-width="0.8"/>
<line x1="255.90" y1="142.02" x2="501.59" y2="142.02" stroke="#e0e0e4" stroke-width="0.8"/>
<line x1="255.90" y1="152.24" x2="501.59" y2="152.24" stroke="#e0e0e4" stroke-width="0.8"/>
<line x1="255.90" y1="162.46" x2="501.59" y2="162.46" stroke="#e0e0e4" stroke-width="0.8"/>
<line x1="255.90" y1="172.68" x2="501.59" y2="172.68" stroke="#e0e0e4" stroke-width="0.8"/>
<line x1="255.90" y1="182.90" x2="501.59" y2="182.90" stroke="#e0e0e4" stroke-width="0.8"/>
<line x1="255.90" y1="193.12" x2="501.59" y2="193.12" stroke="#e0e0e4" stroke-width="0.8"/>
<line x1="255.90" y1="203.34" x2="501.59" y2="203.34" stroke="#e0e0e4" stroke-width="0.8"/>
<line x1="255.90" y1="213.56" x2="501.59" y2="213.56" stroke="#e0e0e4" stroke-width="0.8"/>
<line x1="255.90" y1="223.78" x2="501.59" y2="223.78" stroke="#e0e0e4" stroke-width="0.8"/>
<line x1="255.90" y1="234.00" x2="501.59" y2="234.00" stroke="#e0e0e4" stroke-width="0.8"/>
<line x1="255.90" y1="244.22" x2="501.59" y2="244.22" stroke="#e0e0e4" stroke-width="0.8"/>
<line x1="255.90" y1="254.44" x2="501.59" y2="254.44" stroke="#e0e0e4" stroke-width="0.8"/>
<line x1="255.90" y1="264.66" x2="501.59" y2="264.66" stroke="#e0e0e4" stroke-width="0.8"/>
<line x1="255.90" y1="274.88" x2="501.59" y2="274.88" stroke="#e0e0e4" stroke-width="0.8"/>
<rect x="368.60" y="29.60" width="11.23" height="11.22" fill="#5ccc77"/>
<rect x="378.83" y="29.60" width="11.23" height="11.22" fill="#96d677"/>
<rect x="389.06" y="29.60" width="10.23" height="11.22" fill="#adda77"/>
<rect x="337.91" y="39.82" width="11.23" height="11.22" fill="#16bf76"/>
<rect x="348.14" y="39.82" width="11.23" height="11.22" fill="#45c776"/>
<rect x="358.37" y="39.82" width="11.23" height="11.22" fill="#50ca76"/>
<rect x="368.60" y="39.82" width="11.23" height="11.22" fill="#50ca76"/>
<rect x="378.83" y="39.82" width="11.23" height="11.22" fill="#73d077"/>
<rect x="389.06" y="39.82" width="11.23" height="11.22" fill="#22c176"/>
<rect x="399.29" y="39.82" width="11.23" height="11.22" fill="#50ca76"/>
<rect x="409.52" y="39.82" width="11.23" height="11.22" fill="#45c776"/>
<rect x="419.75" y="39.82" width="10.23" height="11.22" fill="#45c776"/>
<rect x="317.45" y="50.04" width="11.23" height="11.22" fill="#2dc376"/>
<rect x="327.68" y="50.04" width="11.23" height="11.22" fill="#5ccc77"/>
<rect x="337.91" y="50.04" width="11.23" height="11.22" fill="#2dc376"/>
<rect x="348.14" y="50.04" width="11.23" height="11.22" fill="#39c576"/>
<rect x="358.37" y="50.04" width="11.23" height="11.22" fill="#50ca76"/>
<rect x="368.60" y="50.04" width="11.23" height="11.22" fill="#7fd277"/>
<rect x="378.83" y="50.04" width="11.23" height="11.22" fill="#50ca76"/>
<rect x="389.06" y="50.04" width="11.23" height="11.22" fill="#5ccc77"/>
<rect x="399.29" y="50.04" width="11.23" height="11.22" fill="#45c776"/>
<rect x="409.52" y="50.04" width="11.23" height="11.22" fill="#22c176"/>
<rect x="419.75" y="50.04" width="11.23" height="11.22" fill="#5ccc77"/>
<rect x="429.98" y="50.04" width="11.23" height="11.22" fill="#45c776"/>
<rect x="440.21" y="50.04" width="10.23" height="11.22" fill="#16bf76"/>
<rect x="307.22" y="60.26" width="11.23" height="11.22" fill="#2dc376"/>
<rect x="317.45" y="60.26" width="11.23" height="11.22" fill="#50ca76"/>
<rect x="327.68" y="60.26" width="11.23" height="11.22" fill="#5ccc77"/>
<rect x="337.91" y="60.26" width="11.23" height="11.22" fill="#68ce77"/>
<rect x="348.14" y="60.26" width="11.23" height="11.22" fill="#45c776"/>
<rect x="358.37" y="60.26" width="11.23" height="11.22" fill="#22c176"/>
<rect x="368.60" y="60.26" width="11.23" height="11.22" fill="#16bf76"/>
<rect x="378.83" y="60.26" width="11.23" height="11.22" fill="#73d077"/>
<rect x="389.06" y="60.26" width="11.23" height="11.22" fill="#73d077"/>
<rect x="399.29" y="60.26" width="11.23" height="11.22" fill="#5ccc77"/>
<rect x="409.52" y="60.26" width="11.23" height="11.22" fill="#45c776"/>
<rect x="419.75" y="60.26" width="11.23" height="11.22" fill="#16bf76"/>
<rect x="429.98" y="60.26" width="11.23" height="11.22" fill="#50ca76"/>
<rect x="440.21" y="60.26" width="11.23" height="11.22" fill="#16bf76"/>
<rect x="450.44" y="60.26" width="10.23" height="11.22" fill="#16bf76"/>
<rect x="296.99" y="70.48" width="11.23" height="11.22" fill="#f3e778"/>
<rect x="307.22" y="70.48" width="11.23" height="11.22" fill="#73d077"/>
<rect x="317.45" y="70.48" width="11.23" height="11.22" fill="#2dc376"/>
<rect x="327.68" y="70.48" width="11.23" height="11.22" fill="#50ca76"/>
<rect x="337.91" y="70.48" width="11.23" height="11.22" fill="#45c776"/>
<rect x="348.14" y="70.48" width="11.23" height="11.22" fill="#2dc376"/>
<rect x="358.37" y="70.48" width="11.23" height="11.22" fill="#22c176"/>
<rect x="368.60" y="70.48" width="11.23" height="11.22" fill="#45c776"/>
<rect x="378.83" y="70.48" width="11.23" height="11.22" fill="#f3e778"/>
<rect x="389.06" y="70.48" width="11.23" height="11.22" fill="#7fd277"/>
<rect x="399.29" y="70.48" width="11.23" height="11.22" fill="#39c576"/>
<rect x="409.52" y="70.48" width="11.23" height="11.22" fill="#8ad477"/>
<rect x="419.75" y="70.48" width="11.23" height="11.22" fill="#b9dc77"/>
<rect x="429.98" y="70.48" width="11.23" height="11.22" fill="#45c776"/>
<rect x="440.21" y="70.48" width="11.23" height="11.22" fill="#73d077"/>
<rect x="450.44" y="70.48" width="11.23" height="11.22" fill="#50ca76"/>
<rect x="460.67" y="70.48" width="10.23" height="11.22" fill="#68ce77"/>
<rect x="286.76" y="80.70" width="11.23" height="11.22" fill="#96d677"/>
<rect x="296.99" y="80.70" width="11.23" height="11.22" fill="#fedf77"/>
<rect x="307.22" y="80.70" width="11.23" height="11.22" fill="#a2d877"/>
<rect x="317.45" y="80.70" width="11.23" height="11.22" fill="#22c176"/>
<rect x="327.68" y="80.70" width="11.23" height="11.22" fill="#45c776"/>
<rect x="337.91" y="80.70" width="11.23" height="11.22" fill="#ffe477"/>
<rect x="348.14" y="80.70" width="11.23" height="11.22" fill="#22c176"/>
<rect x="358.37" y="80.70" width="11.23" height="11.22" fill="#73d077"/>
<rect x="368.60" y="80.70" width="11.23" height="11.22" fill="#5ccc77"/>
<rect x="378.83" y="80.70" width="11.23" height="11.22" fill="#8ad477"/>
<rect x="389.06" y="80.70" width="11.23" height="11.22" fill="#45c776"/>
<rect x="399.29" y="80.70" width="11.23" height="11.22" fill="#68ce77"/>
<rect x="409.52" y="80.70" width="11.23" height="11.22" fill="#b9dc77"/>
<rect x="419.75" y="80.70" width="11.23" height="11.22" fill="#7fd277"/>
<rect x="429.98" y="80.70" width="11.23" height="11.22" fill="#68ce77"/>
<rect x="440.21" y="80.70" width="11.23" height="11.22" fill="#7fd277"/>
<rect x="450.44" y="80.70" width="11.23" height="11.22" fill="#50ca76"/>
<rect x="460.67" y="80.70" width="11.23" height="11.22" fill="#22c176"/>
<rect x="470.90" y="80.70" width="10.23" height="11.22" fill="#96d677"/>
<rect x="286.76" y="90.92" width="11.23" height="11.22" fill="#adda77"/>
<rect x="296.99" y="90.92" width="11.23" height="11.22" fill="#c5de78"/>
<rect x="307.22" y="90.92" width="11.23" height="11.22" fill="#fecf75"/>
<rect x="317.45" y="90.92" width="11.23" height="11.22" fill="#68ce77"/>
<rect x="327.68" y="90.92" width="11.23" height="11.22" fill="#8ad477"/>
<rect x="337.91" y="90.92" width="11.23" height="11.22" fill="#73d077"/>
<rect x="348.14" y="90.92" width="11.23" height="11.22" fill="#39c576"/>
<rect x="358.37" y="90.92" width="11.23" height="11.22" fill="#96d677"/>
<rect x="368.60" y="90.92" width="11.23" height="11.22" fill="#22c176"/>
<rect x="378.83" y="90.92" width="11.23" height="11.22" fill="#adda77"/>
<rect x="389.06" y="90.92" width="11.23" height="11.22" fill="#73d077"/>
<rect x="399.29" y="90.92" width="11.23" height="11.22" fill="#96d677"/>
<rect x="409.52" y="90.92" width="11.23" height="11.22" fill="#8ad477"/>
<rect x="419.75" y="90.92" width="11.23" height="11.22" fill="#ffe477"/>
<rect x="429.98" y="90.92" width="11.23" height="11.22" fill="#7fd277"/>
<rect x="440.21" y="90.92" width="11.23" height="11.22" fill="#d0e178"/>
<rect x="450.44" y="90.92" width="11.23" height="11.22" fill="#2dc376"/>
<rect x="460.67" y="90.92" width="11.23" height="11.22" fill="#50ca76"/>
<rect x="470.90" y="90.92" width="10.23" height="11.22" fill="#2dc376"/>
<rect x="276.53" y="101.14" width="11.23" height="11.22" fill="#16bf76"/>
<rect x="286.76" y="101.14" width="11.23" height="11.22" fill="#adda77"/>
<rect x="296.99" y="101.14" width="11.23" height="11.22" fill="#fdca75"/>
<rect x="307.22" y="101.14" width="11.23" height="11.22" fill="#45c776"/>
<rect x="317.45" y="101.14" width="11.23" height="11.22" fill="#50ca76"/>
<rect x="327.68" y="101.14" width="11.23" height="11.22" fill="#96d677"/>
<rect x="337.91" y="101.14" width="11.23" height="11.22" fill="#5ccc77"/>
<rect x="348.14" y="101.14" width="11.23" height="11.22" fill="#50ca76"/>
<rect x="358.37" y="101.14" width="11.23" height="11.22" fill="#96d677"/>
<rect x="368.60" y="101.14" width="11.23" height="11.22" fill="#d0e178"/>
<rect x="378.83" y="101.14" width="11.23" height="11.22" fill="#22c176"/>
<rect x="389.06" y="101.14" width="11.23" height="11.22" fill="#2dc376"/>
<rect x="399.29" y="101.14" width="11.23" height="11.22" fill="#16bf76"/>
<rect x="409.52" y="101.14" width="11.23" height="11.22" fill="#45c776"/>
<rect x="419.75" y="101.14" width="11.23" height="11.22" fill="#adda77"/>
<rect x="429.98" y="101.14" width="11.23" height="11.22" fill="#8ad477"/>
<rect x="440.21" y="101.14" width="11.23" height="11.22" fill="#45c776"/>
<rect x="450.44" y="101.14" width="11.23" height="11.22" fill="#45c776"/>
<rect x="460.67" y="101.14" width="11.23" height="11.22" fill="#68ce77"/>
<rect x="470.90" y="101.14" width="11.23" height="11.22" fill="#68ce77"/>
<rect x="481.13" y="101.14" width="10.23" height="11.22" fill="#50ca76"/>
<rect x="276.53" y="111.36" width="11.23" height="11.22" fill="#d4d4d4"/>
<rect x="286.76" y="111.36" width="11.23" height="11.22" fill="#ffe978"/>
<rect x="296.99" y="111.36" width="11.23" height="11.22" fill="#fedf77"/>
<rect x="307.22" y="111.36" width="11.23" height="11.22" fill="#7fd277"/>
<rect x="317.45" y="111.36" width="11.23" height="11.22" fill="#e8e578"/>
<rect x="327.68" y="111.36" width="11.23" height="11.22" fill="#39c576"/>
<rect x="337.91" y="111.36" width="11.23" height="11.22" fill="#22c176"/>
<rect x="348.14" y="111.36" width="11.23" height="11.22" fill="#fdc574"/>
<rect x="358.37" y="111.36" width="11.23" height="11.22" fill="#5ccc77"/>
<rect x="368.60" y="111.36" width="11.23" height="11.22" fill="#5ccc77"/>
<rect x="378.83" y="111.36" width="11.23" height="11.22" fill="#22c176"/>
<rect x="389.06" y="111.36" width="11.23" height="11.22" fill="#16bf76"/>
<rect x="399.29" y="111.36" width="11.23" height="11.22" fill="#ffe978"/>
<rect x="409.52" y="111.36" width="11.23" height="11.22" fill="#7fd277"/>
<rect x="419.75" y="111.36" width="11.23" height="11.22" fill="#50ca76"/>
<rect x="429.98" y="111.36" width="11.23" height="11.22" fill="#68ce77"/>
<rect x="440.21" y="111.36" width="11.23" height="11.22" fill="#5ccc77"/>
<rect x="450.44" y="111.36" width="11.23" height="11.22" fill="#45c776"/>
<rect x="460.67" y="111.36" width="11.23" height="11.22" fill="#50ca76"/>
<rect x="470.90" y="111.36" width="11.23" height="11.22" fill="#22c176"/>
<rect x="481.13" y="111.36" width="10.23" height="11.22" fill="#39c576"/>
<rect x="276.53" y="121.58" width="11.23" height="11.22" fill="#96d677"/>
<rect x="286.76" y="121.58" width="11.23" height="11.22" fill="#fdc074"/>
<rect x="296.99" y="121.58" width="11.23" height="11.22" fill="#ffe477"/>
<rect x="307.22" y="121.58" width="11.23" height="11.22" fill="#22c176"/>
<rect x="317.45" y="121.58" width="11.23" height="11.22" fill="#a2d877"/>
<rect x="327.68" y="121.58" width="11.23" height="11.22" fill="#8ad477"/>
<rect x="337.91" y="121.58" width="11.23" height="11.22" fill="#16bf76"/>
<rect x="348.14" y="121.58" width="11.23" height="11.22" fill="#50ca76"/>
<rect x="358.37" y="121.58" width="11.23" height="11.22" fill="#d0e178"/>
<rect x="368.60" y="121.58" width="11.23" height="11.22" fill="#39c576"/>
<rect x="378.83" y="121.58" width="11.23" height="11.22" fill="#8ad477"/>
<rect x="389.06" y="121.58" width="11.23" height="11.22" fill="#7fd277"/>
<rect x="399.29" y="121.58" width="11.23" height="11.22" fill="#adda77"/>
<rect x="409.52" y="121.58" width="11.23" height="11.22" fill="#8ad477"/>
<rect x="419.75" y="121.58" width="11.23" height="11.22" fill="#dce378"/>
<rect x="429.98" y="121.58" width="11.23" height="11.22" fill="#68ce77"/>
<rect x="440.21" y="121.58" width="11.23" height="11.22" fill="#73d077"/>
<rect x="450.44" y="121.58" width="11.23" height="11.22" fill="#5ccc77"/>
<rect x="460.67" y="121.58" width="11.23" height="11.22" fill="#68ce77"/>
<rect x="470.90" y="121.58" width="11.23" height="11.22" fill="#2dc376"/>
<rect x="481.13" y="121.58" width="10.23" height="11.22" fill="#39c576"/>
<rect x="266.30" y="131.80" width="11.23" height="11.22" fill="#16bf76"/>
<rect x="276.53" y="131.80" width="11.23" height="11.22" fill="#c5de78"/>
<rect x="286.76" y="131.80" width="11.23" height="11.22" fill="#8ad477"/>
<rect x="296.99" y="131.80" width="11.23" height="11.22" fill="#68ce77"/>
<rect x="307.22" y="131.80" width="11.23" height="11.22" fill="#adda77"/>
<rect x="317.45" y="131.80" width="11.23" height="11.22" fill="#39c576"/>
<rect x="327.68" y="131.80" width="11.23" height="11.22" fill="#7fd277"/>
<rect x="337.91" y="131.80" width="11.23" height="11.22" fill="#b9dc77"/>
<rect x="348.14" y="131.80" width="11.23" height="11.22" fill="#50ca76"/>
<rect x="358.37" y="131.80" width="11.23" height="11.22" fill="#b9dc77"/>
<rect x="368.60" y="131.80" width="11.23" height="11.22" fill="#5ccc77"/>
<rect x="378.83" y="131.80" width="11.23" height="11.22" fill="#d0e178"/>
<rect x="389.06" y="131.80" width="11.23" height="11.22" fill="#dce378"/>
<rect x="399.29" y="131.80" width="11.23" height="11.22" fill="#16bf76"/>
<rect x="409.52" y="131.80" width="11.23" height="11.22" fill="#7fd277"/>
<rect x="419.75" y="131.80" width="11.23" height="11.22" fill="#39c576"/>
<rect x="429.98" y="131.80" width="11.23" height="11.22" fill="#7fd277"/>
<rect x="440.21" y="131.80" width="11.23" height="11.22" fill="#a2d877"/>
<rect x="450.44" y="131.80" width="11.23" height="11.22" fill="#adda77"/>
<rect x="460.67" y="131.80" width="11.23" height="11.22" fill="#50ca76"/>
<rect x="470.90" y="131.80" width="11.23" height="11.22" fill="#39c576"/>
<rect x="481.13" y="131.80" width="11.23" height="11.22" fill="#16bf76"/>
<rect x="491.36" y="131.80" width="10.23" height="11.22" fill="#c5de78"/>
<rect x="266.30" y="142.02" width="11.23" height="11.22" fill="#16bf76"/>
<rect x="276.53" y="142.02" width="11.23" height="11.22" fill="#b9dc77"/>
<rect x="286.76" y="142.02" width="11.23" height="11.22" fill="#adda77"/>
<rect x="296.99" y="142.02" width="11.23" height="11.22" fill="#8ad477"/>
<rect x="307.22" y="142.02" width="11.23" height="11.22" fill="#a2d877"/>
<rect x="317.45" y="142.02" width="11.23" height="11.22" fill="#68ce77"/>
<rect x="327.68" y="142.02" width="11.23" height="11.22" fill="#adda77"/>
<rect x="337.91" y="142.02" width="11.23" height="11.22" fill="#ffe477"/>
<rect x="348.14" y="142.02" width="11.23" height="11.22" fill="#45c776"/>
<rect x="358.37" y="142.02" width="11.23" height="11.22" fill="#c5de78"/>
<rect x="368.60" y="142.02" width="11.23" height="11.22" fill="#5ccc77"/>
<rect x="378.83" y="142.02" width="11.23" height="11.22" fill="#39c576"/>
<rect x="389.06" y="142.02" width="11.23" height="11.22" fill="#50ca76"/>
<rect x="399.29" y="142.02" width="11.23" height="11.22" fill="#d0e178"/>
<rect x="409.52" y="142.02" width="11.23" height="11.22" fill="#8ad477"/>
<rect x="419.75" y="142.02" width="11.23" height="11.22" fill="#39c576"/>
<rect x="429.98" y="142.02" width="11.23" height="11.22" fill="#39c576"/>
<rect x="440.21" y="142.02" width="11.23" height="11.22" fill="#adda77"/>
<rect x="450.44" y="142.02" width="11.23" height="11.22" fill="#73d077"/>
<rect x="460.67" y="142.02" width="11.23" height="11.22" fill="#68ce77"/>
<rect x="470.90" y="142.02" width="11.23" height="11.22" fill="#8ad477"/>
<rect x="481.13" y="142.02" width="11.23" height="11.22" fill="#50ca76"/>
<rect x="491.36" y="142.02" width="10.23" height="11.22" fill="#7fd277"/>
<rect x="266.30" y="152.24" width="11.23" height="10.22" fill="#adda77"/>
<rect x="276.53" y="152.24" width="11.23" height="11.22" fill="#a2d877"/>
<rect x="286.76" y="152.24" width="11.23" height="11.22" fill="#d0e178"/>
<rect x="296.99" y="152.24" width="11.23" height="11.22" fill="#fed576"/>
<rect x="307.22" y="152.24" width="11.23" height="11.22" fill="#73d077"/>
<rect x="317.45" y="152.24" width="11.23" height="11.22" fill="#22c176"/>
<rect x="327.68" y="152.24" width="11.23" height="11.22" fill="#8ad477"/>
<rect x="337.91" y="152.24" width="11.23" height="11.22" fill="#fcb673"/>
<rect x="348.14" y="152.24" width="11.23" height="11.22" fill="#dce378"/>
<rect x="358.37" y="152.24" width="11.23" height="11.22" fill="#d0e178"/>
<rect x="368.60" y="152.24" width="11.23" height="11.22" fill="#7fd277"/>
<rect x="378.83" y="152.24" width="11.23" height="11.22" fill="#8ad477"/>
<rect x="389.06" y="152.24" width="11.23" height="11.22" fill="#50ca76"/>
<rect x="399.29" y="152.24" width="11.23" height="11.22" fill="#68ce77"/>
<rect x="409.52" y="152.24" width="11.23" height="11.22" fill="#5ccc77"/>
<rect x="419.75" y="152.24" width="11.23" height="11.22" fill="#16bf76"/>
<rect x="429.98" y="152.24" width="11.23" height="11.22" fill="#5ccc77"/>
<rect x="440.21" y="152.24" width="11.23" height="11.22" fill="#8ad477"/>
<rect x="450.44" y="152.24" width="11.23" height="11.22" fill="#b9dc77"/>
<rect x="460.67" y="152.24" width="11.23" height="11.22" fill="#73d077"/>
<rect x="470.90" y="152.24" width="11.23" height="11.22" fill="#68ce77"/>
<rect x="481.13" y="152.24" width="11.23" height="11.22" fill="#68ce77"/>
<rect x="491.36" y="152.24" width="10.23" height="10.22" fill="#f86e6c"/>
<rect x="276.53" y="162.46" width="11.23" height="11.22" fill="#adda77"/>
<rect x="286.76" y="162.46" width="11.23" height="11.22" fill="#7fd277"/>
<rect x="296.99" y="162.46" width="11.23" height="11.22" fill="#73d077"/>
<rect x="307.22" y="162.46" width="11.23" height="11.22" fill="#2dc376"/>
<rect x="317.45" y="162.46" width="11.23" height="11.22" fill="#dce378"/>
<rect x="327.68" y="162.46" width="11.23" height="11.22" fill="#c5de78"/>
<rect x="337.91" y="162.46" width="11.23" height="11.22" fill="#5ccc77"/>
<rect x="348.14" y="162.46" width="11.23" height="11.22" fill="#fcb673"/>
<rect x="358.37" y="162.46" width="11.23" height="11.22" fill="#adda77"/>
<rect x="368.60" y="162.46" width="11.23" height="11.22" fill="#a2d877"/>
<rect x="378.83" y="162.46" width="11.23" height="11.22" fill="#50ca76"/>
<rect x="389.06" y="162.46" width="11.23" height="11.22" fill="#73d077"/>
<rect x="399.29" y="162.46" width="11.23" height="11.22" fill="#5ccc77"/>
<rect x="409.52" y="162.46" width="11.23" height="11.22" fill="#22c176"/>
<rect x="419.75" y="162.46" width="11.23" height="11.22" fill="#50ca76"/>
<rect x="429.98" y="162.46" width="11.23" height="11.22" fill="#45c776"/>
<rect x="440.21" y="162.46" width="11.23" height="11.22" fill="#68ce77"/>
<rect x="450.44" y="162.46" width="11.23" height="11.22" fill="#adda77"/>
<rect x="460.67" y="162.46" width="11.23" height="11.22" fill="#73d077"/>
<rect x="470.90" y="162.46" width="11.23" height="11.22" fill="#ffe477"/>
<rect x="481.13" y="162.46" width="10.23" height="11.22" fill="#fdc574"/>
<rect x="276.53" y="172.68" width="11.23" height="11.22" fill="#96d677"/>
<rect x="286.76" y="172.68" width="11.23" height="11.22" fill="#d0e178"/>
<rect x="296.99" y="172.68" width="11.23" height="11.22" fill="#b9dc77"/>
<rect x="307.22" y="172.68" width="11.23" height="11.22" fill="#45c776"/>
<rect x="317.45" y="172.68" width="11.23" height="11.22" fill="#ffe978"/>
<rect x="327.68" y="172.68" width="11.23" height="11.22" fill="#5ccc77"/>
<rect x="337.91" y="172.68" width="11.23" height="11.22" fill="#f3e778"/>
<rect x="348.14" y="172.68" width="11.23" height="11.22" fill="#96d677"/>
<rect x="358.37" y="172.68" width="11.23" height="11.22" fill="#b9dc77"/>
<rect x="368.60" y="172.68" width="11.23" height="11.22" fill="#c5de78"/>
<rect x="378.83" y="172.68" width="11.23" height="11.22" fill="#68ce77"/>
<rect x="389.06" y="172.68" width="11.23" height="11.22" fill="#5ccc77"/>
<rect x="399.29" y="172.68" width="11.23" height="11.22" fill="#8ad477"/>
<rect x="409.52" y="172.68" width="11.23" height="11.22" fill="#22c176"/>
<rect x="419.75" y="172.68" width="11.23" height="11.22" fill="#8ad477"/>
<rect x="429.98" y="172.68" width="11.23" height="11.22" fill="#68ce77"/>
<rect x="440.21" y="172.68" width="11.23" height="11.22" fill="#68ce77"/>
<rect x="450.44" y="172.68" width="11.23" height="11.22" fill="#8ad477"/>
<rect x="460.67" y="172.68" width="11.23" height="11.22" fill="#16bf76"/>
<rect x="470.90" y="172.68" width="11.23" height="11.22" fill="#ffe978"/>
<rect x="481.13" y="172.68" width="10.23" height="11.22" fill="#f97d6d"/>
<rect x="276.53" y="182.90" width="11.23" height="10.22" fill="#7fd277"/>
<rect x="286.76" y="182.90" width="11.23" height="11.22" fill="#8ad477"/>
<rect x="296.99" y="182.90" width="11.23" height="11.22" fill="#dce378"/>
<rect x="307.22" y="182.90" width="11.23" height="11.22" fill="#dce378"/>
<rect x="317.45" y="182.90" width="11.23" height="11.22" fill="#ffe477"/>
<rect x="327.68" y="182.90" width="11.23" height="11.22" fill="#ffe978"/>
<rect x="337.91" y="182.90" width="11.23" height="11.22" fill="#e8e578"/>
<rect x="348.14" y="182.90" width="11.23" height="11.22" fill="#dce378"/>
<rect x="358.37" y="182.90" width="11.23" height="11.22" fill="#fdc074"/>
<rect x="368.60" y="182.90" width="11.23" height="11.22" fill="#2dc376"/>
<rect x="378.83" y="182.90" width="11.23" height="11.22" fill="#2dc376"/>
<rect x="389.06" y="182.90" width="11.23" height="11.22" fill="#7fd277"/>
<rect x="399.29" y="182.90" width="11.23" height="11.22" fill="#b9dc77"/>
<rect x="409.52" y="182.90" width="11.23" height="11.22" fill="#50ca76"/>
<rect x="419.75" y="182.90" width="11.23" height="11.22" fill="#68ce77"/>
<rect x="429.98" y="182.90" width="11.23" height="11.22" fill="#73d077"/>
<rect x="440.21" y="182.90" width="11.23" height="11.22" fill="#c5de78"/>
<rect x="450.44" y="182.90" width="11.23" height="11.22" fill="#22c176"/>
<rect x="460.67" y="182.90" width="11.23" height="11.22" fill="#2dc376"/>
<rect x="470.90" y="182.90" width="11.23" height="11.22" fill="#f3e778"/>
<rect x="481.13" y="182.90" width="10.23" height="10.22" fill="#f8696b"/>
<rect x="286.76" y="193.12" width="11.23" height="11.22" fill="#ffe477"/>
<rect x="296.99" y="193.12" width="11.23" height="11.22" fill="#fecf75"/>
<rect x="307.22" y="193.12" width="11.23" height="11.22" fill="#fcbb73"/>
<rect x="317.45" y="193.12" width="11.23" height="11.22" fill="#e8e578"/>
<rect x="327.68" y="193.12" width="11.23" height="11.22" fill="#fedf77"/>
<rect x="337.91" y="193.12" width="11.23" height="11.22" fill="#f9836e"/>
<rect x="348.14" y="193.12" width="11.23" height="11.22" fill="#d0e178"/>
<rect x="358.37" y="193.12" width="11.23" height="11.22" fill="#68ce77"/>
<rect x="368.60" y="193.12" width="11.23" height="11.22" fill="#7fd277"/>
<rect x="378.83" y="193.12" width="11.23" height="11.22" fill="#39c576"/>
<rect x="389.06" y="193.12" width="11.23" height="11.22" fill="#50ca76"/>
<rect x="399.29" y="193.12" width="11.23" height="11.22" fill="#5ccc77"/>
<rect x="409.52" y="193.12" width="11.23" height="11.22" fill="#96d677"/>
<rect x="419.75" y="193.12" width="11.23" height="11.22" fill="#22c176"/>
<rect x="429.98" y="193.12" width="11.23" height="11.22" fill="#50ca76"/>
<rect x="440.21" y="193.12" width="11.23" height="11.22" fill="#50ca76"/>
<rect x="450.44" y="193.12" width="11.23" height="11.22" fill="#16bf76"/>
<rect x="460.67" y="193.12" width="11.23" height="11.22" fill="#8ad477"/>
<rect x="470.90" y="193.12" width="10.23" height="11.22" fill="#adda77"/>
<rect x="286.76" y="203.34" width="11.23" height="10.22" fill="#50ca76"/>
<rect x="296.99" y="203.34" width="11.23" height="11.22" fill="#b9dc77"/>
<rect x="307.22" y="203.34" width="11.23" height="11.22" fill="#dce378"/>
<rect x="317.45" y="203.34" width="11.23" height="11.22" fill="#f9736c"/>
<rect x="327.68" y="203.34" width="11.23" height="11.22" fill="#ffe978"/>
<rect x="337.91" y="203.34" width="11.23" height="11.22" fill="#d0e178"/>
<rect x="348.14" y="203.34" width="11.23" height="11.22" fill="#73d077"/>
<rect x="358.37" y="203.34" width="11.23" height="11.22" fill="#c5de78"/>
<rect x="368.60" y="203.34" width="11.23" height="11.22" fill="#22c176"/>
<rect x="378.83" y="203.34" width="11.23" height="11.22" fill="#7fd277"/>
<rect x="389.06" y="203.34" width="11.23" height="11.22" fill="#73d077"/>
<rect x="399.29" y="203.34" width="11.23" height="11.22" fill="#7fd277"/>
<rect x="409.52" y="203.34" width="11.23" height="11.22" fill="#68ce77"/>
<rect x="419.75" y="203.34" width="11.23" height="11.22" fill="#45c776"/>
<rect x="429.98" y="203.34" width="11.23" height="11.22" fill="#8ad477"/>
<rect x="440.21" y="203.34" width="11.23" height="11.22" fill="#22c176"/>
<rect x="450.44" y="203.34" width="11.23" height="11.22" fill="#96d677"/>
<rect x="460.67" y="203.34" width="11.23" height="11.22" fill="#16bf76"/>
<rect x="470.90" y="203.34" width="10.23" height="10.22" fill="#c5de78"/>
<rect x="296.99" y="213.56" width="11.23" height="10.22" fill="#fedf77"/>
<rect x="307.22" y="213.56" width="11.23" height="11.22" fill="#f9836e"/>
<rect x="317.45" y="213.56" width="11.23" height="11.22" fill="#fedf77"/>
<rect x="327.68" y="213.56" width="11.23" height="11.22" fill="#8ad477"/>
<rect x="337.91" y="213.56" width="11.23" height="11.22" fill="#50ca76"/>
<rect x="348.14" y="213.56" width="11.23" height="11.22" fill="#39c576"/>
<rect x="358.37" y="213.56" width="11.23" height="11.22" fill="#45c776"/>
<rect x="368.60" y="213.56" width="11.23" height="11.22" fill="#a2d877"/>
<rect x="378.83" y="213.56" width="11.23" height="11.22" fill="#a2d877"/>
<rect x="389.06" y="213.56" width="11.23" height="11.22" fill="#7fd277"/>
<rect x="399.29" y="213.56" width="11.23" height="11.22" fill="#50ca76"/>
<rect x="409.52" y="213.56" width="11.23" height="11.22" fill="#39c576"/>
<rect x="419.75" y="213.56" width="11.23" height="11.22" fill="#5ccc77"/>
<rect x="429.98" y="213.56" width="11.23" height="11.22" fill="#5ccc77"/>
<rect x="440.21" y="213.56" width="11.23" height="11.22" fill="#68ce77"/>
<rect x="450.44" y="213.56" width="11.23" height="11.22" fill="#22c176"/>
<rect x="460.67" y="213.56" width="10.23" height="10.22" fill="#fcb172"/>
<rect x="307.22" y="223.78" width="11.23" height="10.22" fill="#8ad477"/>
<rect x="317.45" y="223.78" width="11.23" height="11.22" fill="#96d677"/>
<rect x="327.68" y="223.78" width="11.23" height="11.22" fill="#50ca76"/>
<rect x="337.91" y="223.78" width="11.23" height="11.22" fill="#7fd277"/>
<rect x="348.14" y="223.78" width="11.23" height="11.22" fill="#adda77"/>
<rect x="358.37" y="223.78" width="11.23" height="11.22" fill="#a2d877"/>
<rect x="368.60" y="223.78" width="11.23" height="11.22" fill="#16bf76"/>
<rect x="378.83" y="223.78" width="11.23" height="11.22" fill="#39c576"/>
<rect x="389.06" y="223.78" width="11.23" height="11.22" fill="#50ca76"/>
<rect x="399.29" y="223.78" width="11.23" height="11.22" fill="#16bf76"/>
<rect x="409.52" y="223.78" width="11.23" height="11.22" fill="#5ccc77"/>
<rect x="419.75" y="223.78" width="11.23" height="11.22" fill="#39c576"/>
<rect x="429.98" y="223.78" width="11.23" height="11.22" fill="#39c576"/>
<rect x="440.21" y="223.78" width="11.23" height="11.22" fill="#39c576"/>
<rect x="450.44" y="223.78" width="10.23" height="10.22" fill="#50ca76"/>
<rect x="317.45" y="234.00" width="11.23" height="10.22" fill="#16bf76"/>
<rect x="327.68" y="234.00" width="11.23" height="10.22" fill="#22c176"/>
<rect x="337.91" y="234.00" width="11.23" height="11.22" fill="#16bf76"/>
<rect x="348.14" y="234.00" width="11.23" height="11.22" fill="#45c776"/>
<rect x="358.37" y="234.00" width="11.23" height="11.22" fill="#16bf76"/>
<rect x="368.60" y="234.00" width="11.23" height="11.22" fill="#16bf76"/>
<rect x="378.83" y="234.00" width="11.23" height="11.22" fill="#16bf76"/>
<rect x="389.06" y="234.00" width="11.23" height="11.22" fill="#16bf76"/>
<rect x="399.29" y="234.00" width="11.23" height="11.22" fill="#16bf76"/>
<rect x="409.52" y="234.00" width="11.23" height="11.22" fill="#5ccc77"/>
<rect x="419.75" y="234.00" width="11.23" height="11.22" fill="#68ce77"/>
<rect x="429.98" y="234.00" width="11.23" height="10.22" fill="#d4d4d4"/>
<rect x="440.21" y="234.00" width="10.23" height="10.22" fill="#b9dc77"/>
<rect x="337.91" y="244.22" width="11.23" height="10.22" fill="#22c176"/>
<rect x="348.14" y="244.22" width="11.23" height="10.22" fill="#16bf76"/>
<rect x="358.37" y="244.22" width="11.23" height="10.22" fill="#7fd277"/>
<rect x="368.60" y="244.22" width="11.23" height="11.22" fill="#16bf76"/>
<rect x="378.83" y="244.22" width="11.23" height="11.22" fill="#39c576"/>
<rect x="389.06" y="244.22" width="11.23" height="11.22" fill="#5ccc77"/>
<rect x="399.29" y="244.22" width="11.23" height="10.22" fill="#39c576"/>
<rect x="409.52" y="244.22" width="11.23" height="10.22" fill="#16bf76"/>
<rect x="419.75" y="244.22" width="10.23" height="10.22" fill="#d4d4d4"/>
<rect x="368.60" y="254.44" width="11.23" height="10.22" fill="#dce378"/>
<rect x="378.83" y="254.44" width="11.23" height="10.22" fill="#39c576"/>
<rect x="389.06" y="254.44" width="10.23" height="10.22" fill="#f8696b"/>
<line x1="378.83" y1="29.60" x2="389.06" y2="39.82" stroke="#2a2a2a" stroke-width="0.6"/>
<line x1="389.06" y1="29.60" x2="399.29" y2="39.82" stroke="#2a2a2a" stroke-width="0.6"/>
<line x1="358.37" y1="50.04" x2="368.60" y2="60.26" stroke="#2a2a2a" stroke-width="0.6"/>
<line x1="440.21" y1="80.70" x2="450.44" y2="90.92" stroke="#2a2a2a" stroke-width="0.6"/>
<line x1="460.67" y1="80.70" x2="470.90" y2="90.92" stroke="#2a2a2a" stroke-width="0.6"/>
<line x1="317.45" y1="90.92" x2="327.68" y2="101.14" stroke="#2a2a2a" stroke-width="0.6"/>
<line x1="368.60" y1="90.92" x2="378.83" y2="101.14" stroke="#2a2a2a" stroke-width="0.6"/>
<line x1="378.83" y1="90.92" x2="389.06" y2="101.14" stroke="#2a2a2a" stroke-width="0.6"/>
<line x1="327.68" y1="101.14" x2="337.91" y2="111.36" stroke="#2a2a2a" stroke-width="0.6"/>
<line x1="358.37" y1="101.14" x2="368.60" y2="111.36" stroke="#2a2a2a" stroke-width="0.6"/>
<line x1="399.29" y1="101.14" x2="409.52" y2="111.36" stroke="#2a2a2a" stroke-width="0.6"/>
<line x1="348.14" y1="111.36" x2="358.37" y2="121.58" stroke="#2a2a2a" stroke-width="0.6"/>
<line x1="470.90" y1="111.36" x2="481.13" y2="121.58" stroke="#2a2a2a" stroke-width="0.6"/>
<line x1="296.99" y1="121.58" x2="307.22" y2="131.80" stroke="#2a2a2a" stroke-width="0.6"/>
<line x1="276.53" y1="131.80" x2="286.76" y2="142.02" stroke="#2a2a2a" stroke-width="0.6"/>
<line x1="389.06" y1="131.80" x2="399.29" y2="142.02" stroke="#2a2a2a" stroke-width="0.6"/>
<line x1="491.36" y1="142.02" x2="501.59" y2="152.24" stroke="#2a2a2a" stroke-width="0.6"/>
<line x1="481.13" y1="152.24" x2="491.36" y2="162.46" stroke="#2a2a2a" stroke-width="0.6"/>
<line x1="491.36" y1="152.24" x2="501.59" y2="162.46" stroke="#2a2a2a" stroke-width="0.6"/>
<line x1="481.13" y1="172.68" x2="491.36" y2="182.90" stroke="#2a2a2a" stroke-width="0.6"/>
<line x1="296.99" y1="182.90" x2="307.22" y2="193.12" stroke="#2a2a2a" stroke-width="0.6"/>
<line x1="481.13" y1="182.90" x2="491.36" y2="193.12" stroke="#2a2a2a" stroke-width="0.6"/>
<line x1="286.76" y1="193.12" x2="296.99" y2="203.34" stroke="#2a2a2a" stroke-width="0.6"/>
<line x1="337.91" y1="193.12" x2="348.14" y2="203.34" stroke="#2a2a2a" stroke-width="0.6"/>
<line x1="409.52" y1="193.12" x2="419.75" y2="203.34" stroke="#2a2a2a" stroke-width="0.6"/>
<line x1="317.45" y1="203.34" x2="327.68" y2="213.56" stroke="#2a2a2a" stroke-width="0.6"/>
<line x1="460.67" y1="213.56" x2="470.90" y2="223.78" stroke="#2a2a2a" stroke-width="0.6"/>
<line x1="419.75" y1="234.00" x2="429.98" y2="244.22" stroke="#2a2a2a" stroke-width="0.6"/>
<line x1="337.91" y1="244.22" x2="348.14" y2="254.44" stroke="#2a2a2a" stroke-width="0.6"/>
<line x1="389.06" y1="254.44" x2="399.29" y2="264.66" stroke="#2a2a2a" stroke-width="0.6"/>
<line x1="501.59" y1="142.02" x2="491.36" y2="152.24" stroke="#2a2a2a" stroke-width="0.6"/>
<line x1="399.29" y1="254.44" x2="389.06" y2="264.66" stroke="#2a2a2a" stroke-width="0.6"/>
<g class="cn" clip-path="url(#clip1)"><text x="377.73" y="37.82">41</text><text x="387.96" y="37.82">46</text><text x="398.19" y="37.82">48</text><text x="347.04" y="48.04">33</text><text x="357.27" y="48.04">39</text><text x="367.50" y="48.04">40</text><text x="377.73" y="48.04">40</text><text x="387.96" y="48.04">43</text><text x="398.19" y="48.04">36</text><text x="408.42" y="48.04">40</text><text x="418.65" y="48.04">39</text><text x="428.88" y="48.04">39</text><text x="326.58" y="58.26">37</text><text x="336.81" y="58.26">41</text><text x="347.04" y="58.26">37</text><text x="357.27" y="58.26">38</text><text x="367.50" y="58.26">40</text><text x="377.73" y="58.26">44</text><text x="387.96" y="58.26">40</text><text x="398.19" y="58.26">41</text><text x="408.42" y="58.26">39</text><text x="418.65" y="58.26">36</text><text x="428.88" y="58.26">41</text><text x="439.11" y="58.26">39</text><text x="449.34" y="58.26">32</text><text x="316.35" y="68.48">37</text><text x="326.58" y="68.48">40</text><text x="336.81" y="68.48">41</text><text x="347.04" y="68.48">42</text><text x="357.27" y="68.48">39</text><text x="367.50" y="68.48">36</text><text x="377.73" y="68.48">33</text><text x="387.96" y="68.48">43</text><text x="398.19" y="68.48">43</text><text x="408.42" y="68.48">41</text><text x="418.65" y="68.48">39</text><text x="428.88" y="68.48">35</text><text x="439.11" y="68.48">40</text><text x="449.34" y="68.48">34</text><text x="459.57" y="68.48">35</text><text x="306.12" y="78.70">54</text><text x="316.35" y="78.70">43</text><text x="326.58" y="78.70">37</text><text x="336.81" y="78.70">40</text><text x="347.04" y="78.70">39</text><text x="357.27" y="78.70">37</text><text x="367.50" y="78.70">36</text><text x="377.73" y="78.70">39</text><text x="387.96" y="78.70">54</text><text x="398.19" y="78.70">44</text><text x="408.42" y="78.70">38</text><text x="418.65" y="78.70">45</text><text x="428.88" y="78.70">49</text><text x="439.11" y="78.70">39</text><text x="449.34" y="78.70">43</text><text x="459.57" y="78.70">40</text><text x="469.80" y="78.70">42</text><text x="295.89" y="88.92">46</text><text x="306.12" y="88.92">57</text><text x="316.35" y="88.92">47</text><text x="326.58" y="88.92">36</text><text x="336.81" y="88.92">39</text><text x="347.04" y="88.92">56</text><text x="357.27" y="88.92">36</text><text x="367.50" y="88.92">43</text><text x="377.73" y="88.92">41</text><text x="387.96" y="88.92">45</text><text x="398.19" y="88.92">39</text><text x="408.42" y="88.92">42</text><text x="418.65" y="88.92">49</text><text x="428.88" y="88.92">44</text><text x="439.11" y="88.92">42</text><text x="449.34" y="88.92">44</text><text x="459.57" y="88.92">40</text><text x="469.80" y="88.92">36</text><text x="480.03" y="88.92">46</text><text x="295.89" y="99.14">48</text><text x="306.12" y="99.14">50</text><text x="316.35" y="99.14">60</text><text x="326.58" y="99.14">42</text><text x="336.81" y="99.14">45</text><text x="347.04" y="99.14">43</text><text x="357.27" y="99.14">38</text><text x="367.50" y="99.14">46</text><text x="377.73" y="99.14">36</text><text x="387.96" y="99.14">48</text><text x="398.19" y="99.14">43</text><text x="408.42" y="99.14">46</text><text x="418.65" y="99.14">45</text><text x="428.88" y="99.14">56</text><text x="439.11" y="99.14">44</text><text x="449.34" y="99.14">51</text><text x="459.57" y="99.14">37</text><text x="469.80" y="99.14">40</text><text x="480.03" y="99.14">37</text><text x="285.66" y="109.36">20</text><text x="295.89" y="109.36">48</text><text x="306.12" y="109.36">61</text><text x="316.35" y="109.36">39</text><text x="326.58" y="109.36">40</text><text x="336.81" y="109.36">46</text><text x="347.04" y="109.36">41</text><text x="357.27" y="109.36">40</text><text x="367.50" y="109.36">46</text><text x="377.73" y="109.36">51</text><text x="387.96" y="109.36">36</text><text x="398.19" y="109.36">37</text><text x="408.42" y="109.36">34</text><text x="418.65" y="109.36">39</text><text x="428.88" y="109.36">48</text><text x="439.11" y="109.36">45</text><text x="449.34" y="109.36">39</text><text x="459.57" y="109.36">39</text><text x="469.80" y="109.36">42</text><text x="480.03" y="109.36">42</text><text x="490.26" y="109.36">40</text><text x="295.89" y="119.58">55</text><text x="306.12" y="119.58">57</text><text x="316.35" y="119.58">44</text><text x="326.58" y="119.58">53</text><text x="336.81" y="119.58">38</text><text x="347.04" y="119.58">36</text><text x="357.27" y="119.58">62</text><text x="367.50" y="119.58">41</text><text x="377.73" y="119.58">41</text><text x="387.96" y="119.58">36</text><text x="398.19" y="119.58">34</text><text x="408.42" y="119.58">55</text><text x="418.65" y="119.58">44</text><text x="428.88" y="119.58">40</text><text x="439.11" y="119.58">42</text><text x="449.34" y="119.58">41</text><text x="459.57" y="119.58">39</text><text x="469.80" y="119.58">40</text><text x="480.03" y="119.58">36</text><text x="490.26" y="119.58">38</text><text x="285.66" y="129.80">46</text><text x="295.89" y="129.80">63</text><text x="306.12" y="129.80">56</text><text x="316.35" y="129.80">36</text><text x="326.58" y="129.80">47</text><text x="336.81" y="129.80">45</text><text x="347.04" y="129.80">34</text><text x="357.27" y="129.80">40</text><text x="367.50" y="129.80">51</text><text x="377.73" y="129.80">38</text><text x="387.96" y="129.80">45</text><text x="398.19" y="129.80">44</text><text x="408.42" y="129.80">48</text><text x="418.65" y="129.80">45</text><text x="428.88" y="129.80">52</text><text x="439.11" y="129.80">42</text><text x="449.34" y="129.80">43</text><text x="459.57" y="129.80">41</text><text x="469.80" y="129.80">42</text><text x="480.03" y="129.80">37</text><text x="490.26" y="129.80">38</text><text x="285.66" y="140.02">50</text><text x="295.89" y="140.02">45</text><text x="306.12" y="140.02">42</text><text x="316.35" y="140.02">48</text><text x="326.58" y="140.02">38</text><text x="336.81" y="140.02">44</text><text x="347.04" y="140.02">49</text><text x="357.27" y="140.02">40</text><text x="367.50" y="140.02">49</text><text x="377.73" y="140.02">41</text><text x="387.96" y="140.02">51</text><text x="398.19" y="140.02">52</text><text x="408.42" y="140.02">31</text><text x="418.65" y="140.02">44</text><text x="428.88" y="140.02">38</text><text x="439.11" y="140.02">44</text><text x="449.34" y="140.02">47</text><text x="459.57" y="140.02">48</text><text x="469.80" y="140.02">40</text><text x="480.03" y="140.02">38</text><text x="490.26" y="140.02">35</text><text x="500.49" y="140.02">50</text><text x="285.66" y="150.24">49</text><text x="295.89" y="150.24">48</text><text x="306.12" y="150.24">45</text><text x="316.35" y="150.24">47</text><text x="326.58" y="150.24">42</text><text x="336.81" y="150.24">48</text><text x="347.04" y="150.24">56</text><text x="357.27" y="150.24">39</text><text x="367.50" y="150.24">50</text><text x="377.73" y="150.24">41</text><text x="387.96" y="150.24">38</text><text x="398.19" y="150.24">40</text><text x="408.42" y="150.24">51</text><text x="418.65" y="150.24">45</text><text x="428.88" y="150.24">38</text><text x="439.11" y="150.24">38</text><text x="449.34" y="150.24">48</text><text x="459.57" y="150.24">43</text><text x="469.80" y="150.24">42</text><text x="480.03" y="150.24">45</text><text x="490.26" y="150.24">40</text><text x="500.49" y="150.24">44</text><text x="275.43" y="160.46">48</text><text x="285.66" y="160.46">47</text><text x="295.89" y="160.46">51</text><text x="306.12" y="160.46">59</text><text x="316.35" y="160.46">43</text><text x="326.58" y="160.46">36</text><text x="336.81" y="160.46">45</text><text x="347.04" y="160.46">65</text><text x="357.27" y="160.46">52</text><text x="367.50" y="160.46">51</text><text x="377.73" y="160.46">44</text><text x="387.96" y="160.46">45</text><text x="398.19" y="160.46">40</text><text x="408.42" y="160.46">42</text><text x="418.65" y="160.46">41</text><text x="428.88" y="160.46">35</text><text x="439.11" y="160.46">41</text><text x="449.34" y="160.46">45</text><text x="459.57" y="160.46">49</text><text x="469.80" y="160.46">43</text><text x="480.03" y="160.46">42</text><text x="490.26" y="160.46">42</text><text x="500.49" y="160.46">79</text><text x="285.66" y="170.68">48</text><text x="295.89" y="170.68">44</text><text x="306.12" y="170.68">43</text><text x="316.35" y="170.68">37</text><text x="326.58" y="170.68">52</text><text x="336.81" y="170.68">50</text><text x="347.04" y="170.68">41</text><text x="357.27" y="170.68">65</text><text x="367.50" y="170.68">48</text><text x="377.73" y="170.68">47</text><text x="387.96" y="170.68">40</text><text x="398.19" y="170.68">43</text><text x="408.42" y="170.68">41</text><text x="418.65" y="170.68">36</text><text x="428.88" y="170.68">40</text><text x="439.11" y="170.68">39</text><text x="449.34" y="170.68">42</text><text x="459.57" y="170.68">48</text><text x="469.80" y="170.68">43</text><text x="480.03" y="170.68">56</text><text x="490.26" y="170.68">62</text><text x="285.66" y="180.90">46</text><text x="295.89" y="180.90">51</text><text x="306.12" y="180.90">49</text><text x="316.35" y="180.90">39</text><text x="326.58" y="180.90">55</text><text x="336.81" y="180.90">41</text><text x="347.04" y="180.90">54</text><text x="357.27" y="180.90">46</text><text x="367.50" y="180.90">49</text><text x="377.73" y="180.90">50</text><text x="387.96" y="180.90">42</text><text x="398.19" y="180.90">41</text><text x="408.42" y="180.90">45</text><text x="418.65" y="180.90">36</text><text x="428.88" y="180.90">45</text><text x="439.11" y="180.90">42</text><text x="449.34" y="180.90">42</text><text x="459.57" y="180.90">45</text><text x="469.80" y="180.90">34</text><text x="480.03" y="180.90">55</text><text x="490.26" y="180.90">76</text><text x="285.66" y="191.12">44</text><text x="295.89" y="191.12">45</text><text x="306.12" y="191.12">52</text><text x="316.35" y="191.12">52</text><text x="326.58" y="191.12">56</text><text x="336.81" y="191.12">55</text><text x="347.04" y="191.12">53</text><text x="357.27" y="191.12">52</text><text x="367.50" y="191.12">63</text><text x="377.73" y="191.12">37</text><text x="387.96" y="191.12">37</text><text x="398.19" y="191.12">44</text><text x="408.42" y="191.12">49</text><text x="418.65" y="191.12">40</text><text x="428.88" y="191.12">42</text><text x="439.11" y="191.12">43</text><text x="449.34" y="191.12">50</text><text x="459.57" y="191.12">36</text><text x="469.80" y="191.12">37</text><text x="480.03" y="191.12">54</text><text x="490.26" y="191.12">86</text><text x="295.89" y="201.34">56</text><text x="306.12" y="201.34">60</text><text x="316.35" y="201.34">64</text><text x="326.58" y="201.34">53</text><text x="336.81" y="201.34">57</text><text x="347.04" y="201.34">75</text><text x="357.27" y="201.34">51</text><text x="367.50" y="201.34">42</text><text x="377.73" y="201.34">44</text><text x="387.96" y="201.34">38</text><text x="398.19" y="201.34">40</text><text x="408.42" y="201.34">41</text><text x="418.65" y="201.34">46</text><text x="428.88" y="201.34">36</text><text x="439.11" y="201.34">40</text><text x="449.34" y="201.34">40</text><text x="459.57" y="201.34">33</text><text x="469.80" y="201.34">45</text><text x="480.03" y="201.34">48</text><text x="295.89" y="211.56">40</text><text x="306.12" y="211.56">49</text><text x="316.35" y="211.56">52</text><text x="326.58" y="211.56">78</text><text x="336.81" y="211.56">55</text><text x="347.04" y="211.56">51</text><text x="357.27" y="211.56">43</text><text x="367.50" y="211.56">50</text><text x="377.73" y="211.56">36</text><text x="387.96" y="211.56">44</text><text x="398.19" y="211.56">43</text><text x="408.42" y="211.56">44</text><text x="418.65" y="211.56">42</text><text x="428.88" y="211.56">39</text><text x="439.11" y="211.56">45</text><text x="449.34" y="211.56">36</text><text x="459.57" y="211.56">46</text><text x="469.80" y="211.56">35</text><text x="480.03" y="211.56">50</text><text x="306.12" y="221.78">57</text><text x="316.35" y="221.78">75</text><text x="326.58" y="221.78">57</text><text x="336.81" y="221.78">45</text><text x="347.04" y="221.78">40</text><text x="357.27" y="221.78">38</text><text x="367.50" y="221.78">39</text><text x="377.73" y="221.78">47</text><text x="387.96" y="221.78">47</text><text x="398.19" y="221.78">44</text><text x="408.42" y="221.78">40</text><text x="418.65" y="221.78">38</text><text x="428.88" y="221.78">41</text><text x="439.11" y="221.78">41</text><text x="449.34" y="221.78">42</text><text x="459.57" y="221.78">36</text><text x="469.80" y="221.78">66</text><text x="316.35" y="232.00">45</text><text x="326.58" y="232.00">46</text><text x="336.81" y="232.00">40</text><text x="347.04" y="232.00">44</text><text x="357.27" y="232.00">48</text><text x="367.50" y="232.00">47</text><text x="377.73" y="232.00">35</text><text x="387.96" y="232.00">38</text><text x="398.19" y="232.00">40</text><text x="408.42" y="232.00">33</text><text x="418.65" y="232.00">41</text><text x="428.88" y="232.00">38</text><text x="439.11" y="232.00">38</text><text x="449.34" y="232.00">38</text><text x="459.57" y="232.00">40</text><text x="326.58" y="242.22">30</text><text x="336.81" y="242.22">36</text><text x="347.04" y="242.22">35</text><text x="357.27" y="242.22">39</text><text x="367.50" y="242.22">33</text><text x="377.73" y="242.22">31</text><text x="387.96" y="242.22">34</text><text x="398.19" y="242.22">27</text><text x="408.42" y="242.22">33</text><text x="418.65" y="242.22">41</text><text x="428.88" y="242.22">42</text><text x="449.34" y="242.22">49</text><text x="347.04" y="252.44">36</text><text x="357.27" y="252.44">30</text><text x="367.50" y="252.44">44</text><text x="377.73" y="252.44">34</text><text x="387.96" y="252.44">38</text><text x="398.19" y="252.44">41</text><text x="408.42" y="252.44">38</text><text x="418.65" y="252.44">35</text><text x="377.73" y="262.66">52</text><text x="387.96" y="262.66">38</text><text x="398.19" y="262.66">80</text></g>
<rect x="266.30" y="29.60" width="235.29" height="235.06" fill="none" stroke="#6e6e6e" stroke-width="1"/>
<g class="cl" transform="scale(0.85,1)"><text x="323.74" y="26.1" text-anchor="end">-22</text><text x="335.78" y="26.1" text-anchor="end">-20</text><text x="347.81" y="26.1" text-anchor="end">-18</text><text x="359.85" y="26.1" text-anchor="end">-16</text><text x="371.88" y="26.1" text-anchor="end">-14</text><text x="383.92" y="26.1" text-anchor="end">-12</text><text x="395.95" y="26.1" text-anchor="end">-10</text><text x="407.99" y="26.1" text-anchor="end">-8</text><text x="420.02" y="26.1" text-anchor="end">-6</text><text x="432.06" y="26.1" text-anchor="end">-4</text><text x="444.09" y="26.1" text-anchor="end">-2</text><text x="456.13" y="26.1" text-anchor="end">0</text><text x="468.16" y="26.1" text-anchor="end">2</text><text x="480.20" y="26.1" text-anchor="end">4</text><text x="492.24" y="26.1" text-anchor="end">6</text><text x="504.27" y="26.1" text-anchor="end">8</text><text x="516.31" y="26.1" text-anchor="end">10</text><text x="528.34" y="26.1" text-anchor="end">12</text><text x="540.38" y="26.1" text-anchor="end">14</text><text x="552.41" y="26.1" text-anchor="end">16</text><text x="564.45" y="26.1" text-anchor="end">18</text><text x="576.48" y="26.1" text-anchor="end">20</text><text x="588.52" y="26.1" text-anchor="end">22</text></g>
<g class="lb"><text x="261.30" y="37.32" text-anchor="middle">22</text><text x="261.30" y="47.54" text-anchor="middle">20</text><text x="261.30" y="57.76" text-anchor="middle">18</text><text x="261.30" y="67.98" text-anchor="middle">16</text><text x="261.30" y="78.20" text-anchor="middle">14</text><text x="261.30" y="88.42" text-anchor="middle">12</text><text x="261.30" y="98.64" text-anchor="middle">10</text><text x="261.30" y="108.86" text-anchor="middle">8</text><text x="261.30" y="119.08" text-anchor="middle">6</text><text x="261.30" y="129.30" text-anchor="middle">4</text><text x="261.30" y="139.52" text-anchor="middle">2</text><text x="261.30" y="149.74" text-anchor="middle">0</text><text x="261.30" y="159.96" text-anchor="middle">-2</text><text x="261.30" y="170.18" text-anchor="middle">-4</text><text x="261.30" y="180.40" text-anchor="middle">-6</text><text x="261.30" y="190.62" text-anchor="middle">-8</text><text x="261.30" y="200.84" text-anchor="middle">-10</text><text x="261.30" y="211.06" text-anchor="middle">-12</text><text x="261.30" y="221.28" text-anchor="middle">-14</text><text x="261.30" y="231.50" text-anchor="middle">-16</text><text x="261.30" y="241.72" text-anchor="middle">-18</text><text x="261.30" y="251.94" text-anchor="middle">-20</text><text x="261.30" y="262.16" text-anchor="middle">-22</text></g>
<text class="tt" transform="translate(379.00,0) scale(0.94,1)" x="0" y="16.0" text-anchor="middle">201 FWHM</text>
<g class="ft"><text class="it" x="285.66" y="271.8">Average:</text><text class="nm" x="295.89" y="271.8">44</text><text x="326.58" y="271.8">σ: 8.8</text><text class="mp" x="368.10" y="271.8">MultiPeaks:</text><text class="nm" x="377.73" y="271.8">30</text><text x="408.82" y="271.8">Weak:</text></g>
<defs><linearGradient id="cb" x1="0" y1="0" x2="0" y2="1"><stop offset="0.0000" stop-color="#16bf76"/><stop offset="0.0250" stop-color="#1cc076"/><stop offset="0.0500" stop-color="#28c276"/><stop offset="0.0750" stop-color="#34c476"/><stop offset="0.1000" stop-color="#40c776"/><stop offset="0.1250" stop-color="#4cc976"/><stop offset="0.1500" stop-color="#59cb77"/><stop offset="0.1750" stop-color="#65cd77"/><stop offset="0.2000" stop-color="#71cf77"/><stop offset="0.2250" stop-color="#7dd277"/><stop offset="0.2500" stop-color="#89d477"/><stop offset="0.2750" stop-color="#95d677"/><stop offset="0.3000" stop-color="#a1d877"/><stop offset="0.3250" stop-color="#aeda77"/><stop offset="0.3500" stop-color="#badd77"/><stop offset="0.3750" stop-color="#c6df78"/><stop offset="0.4000" stop-color="#d2e178"/><stop offset="0.4250" stop-color="#dee378"/><stop offset="0.4500" stop-color="#eae578"/><stop offset="0.4750" stop-color="#f7e778"/><stop offset="0.5000" stop-color="#ffe778"/><stop offset="0.5250" stop-color="#ffe177"/><stop offset="0.5500" stop-color="#feda77"/><stop offset="0.5750" stop-color="#fed476"/><stop offset="0.6000" stop-color="#fdce75"/><stop offset="0.6250" stop-color="#fdc775"/><stop offset="0.6500" stop-color="#fdc174"/><stop offset="0.6750" stop-color="#fcba73"/><stop offset="0.7000" stop-color="#fcb473"/><stop offset="0.7250" stop-color="#fcae72"/><stop offset="0.7500" stop-color="#fba771"/><stop offset="0.7750" stop-color="#fba171"/><stop offset="0.8000" stop-color="#fb9a70"/><stop offset="0.8250" stop-color="#fa946f"/><stop offset="0.8500" stop-color="#fa8e6f"/><stop offset="0.8750" stop-color="#fa876e"/><stop offset="0.9000" stop-color="#f9816d"/><stop offset="0.9250" stop-color="#f97b6d"/><stop offset="0.9500" stop-color="#f9746c"/><stop offset="0.9750" stop-color="#f86e6b"/><stop offset="1.0000" stop-color="#f8696b"/></linearGradient></defs>
<rect x="501.9" y="85.9" width="23.50" height="178.80" fill="url(#cb)"/>
<text class="cbl" x="532.8" y="112.70">40</text>
<text class="cbl" x="532.8" y="151.68">50</text>
<text class="cbl" x="532.8" y="190.66">60</text>
<text class="cbl" x="532.8" y="229.64">70</text>
<text class="cbl" x="532.8" y="268.62">80</text>
<text class="cap" x="121.2" y="300.2">(a)</text>
<text class="cap" x="374.4" y="300.2">(b)</text>
</svg>
</body></html>
